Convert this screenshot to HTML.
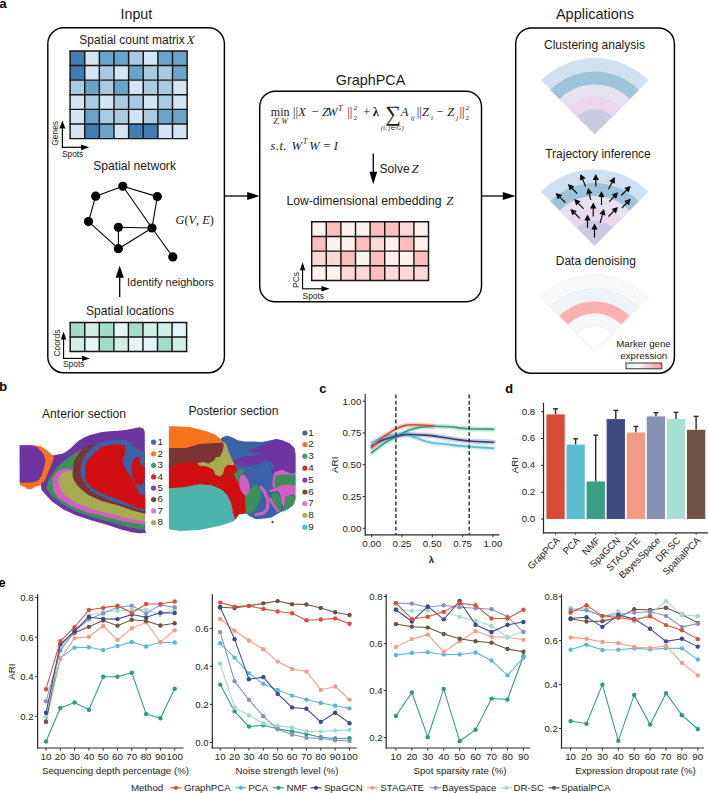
<!DOCTYPE html><html><head><meta charset="utf-8"><style>html,body{margin:0;padding:0;background:#fff;}svg{display:block;}</style></head><body>
<svg width="708" height="793" viewBox="0 0 708 793">
<rect width="708" height="793" fill="#fff"/>
<text x="-0.6" y="7.7" font-size="12.8" text-anchor="start" fill="#000" font-weight="bold" font-style="normal" font-family='"Liberation Sans", sans-serif' >a</text>
<text x="136.4" y="19.2" font-size="14.3" text-anchor="middle" fill="#1a1a1a" font-weight="normal" font-style="normal" font-family='"Liberation Sans", sans-serif' >Input</text>
<text x="370.5" y="85.3" font-size="14.4" text-anchor="middle" fill="#1a1a1a" font-weight="normal" font-style="normal" font-family='"Liberation Sans", sans-serif' >GraphPCA</text>
<text x="595" y="19.2" font-size="14.5" text-anchor="middle" fill="#1a1a1a" font-weight="normal" font-style="normal" font-family='"Liberation Sans", sans-serif' >Applications</text>
<rect x="47.8" y="27.8" width="176.6" height="345" rx="16" ry="16" fill="none" stroke="#000" stroke-width="1.45"/>
<rect x="259.7" y="91.2" width="221.8" height="210.5" rx="15.5" ry="15.5" fill="none" stroke="#000" stroke-width="1.45"/>
<rect x="515.7" y="27.9" width="158.7" height="345.4" rx="16" ry="16" fill="none" stroke="#000" stroke-width="1.45"/>
<line x1="224.6" y1="196" x2="248.2" y2="196" stroke="#000" stroke-width="1.3" />
<polygon points="247.2,192.1 247.2,199.9 259.7,196" fill="#000"/>
<line x1="481.7" y1="196" x2="503.79999999999995" y2="196" stroke="#000" stroke-width="1.3" />
<polygon points="502.79999999999995,192.1 502.79999999999995,199.9 515.8,196" fill="#000"/>
<text x="79.3" y="44.1" font-size="12" text-anchor="start" fill="#1a1a1a" font-weight="normal" font-style="normal" font-family='"Liberation Sans", sans-serif' >Spatial count matrix</text>
<text x="186.8" y="44.1" font-size="12.8" text-anchor="start" fill="#1a1a1a" font-weight="normal" font-style="italic" font-family='"Liberation Serif", serif' >X</text>
<rect x="70.1" y="50.9" width="14.63" height="14.62" fill="#3f7db3" stroke="none" stroke-width="0" />
<rect x="84.73" y="50.9" width="14.63" height="14.62" fill="#d5e4f2" stroke="none" stroke-width="0" />
<rect x="99.36" y="50.9" width="14.63" height="14.62" fill="#6aa4cb" stroke="none" stroke-width="0" />
<rect x="113.99" y="50.9" width="14.63" height="14.62" fill="#6aa4cb" stroke="none" stroke-width="0" />
<rect x="128.62" y="50.9" width="14.63" height="14.62" fill="#a8cbe1" stroke="none" stroke-width="0" />
<rect x="143.25" y="50.9" width="14.63" height="14.62" fill="#d5e4f2" stroke="none" stroke-width="0" />
<rect x="157.88" y="50.9" width="14.63" height="14.62" fill="#6aa4cb" stroke="none" stroke-width="0" />
<rect x="172.51" y="50.9" width="14.63" height="14.62" fill="#6aa4cb" stroke="none" stroke-width="0" />
<rect x="70.1" y="65.52" width="14.63" height="14.62" fill="#3f7db3" stroke="none" stroke-width="0" />
<rect x="84.73" y="65.52" width="14.63" height="14.62" fill="#d5e4f2" stroke="none" stroke-width="0" />
<rect x="99.36" y="65.52" width="14.63" height="14.62" fill="#a8cbe1" stroke="none" stroke-width="0" />
<rect x="113.99" y="65.52" width="14.63" height="14.62" fill="#d5e4f2" stroke="none" stroke-width="0" />
<rect x="128.62" y="65.52" width="14.63" height="14.62" fill="#6aa4cb" stroke="none" stroke-width="0" />
<rect x="143.25" y="65.52" width="14.63" height="14.62" fill="#a8cbe1" stroke="none" stroke-width="0" />
<rect x="157.88" y="65.52" width="14.63" height="14.62" fill="#a8cbe1" stroke="none" stroke-width="0" />
<rect x="172.51" y="65.52" width="14.63" height="14.62" fill="#6aa4cb" stroke="none" stroke-width="0" />
<rect x="70.1" y="80.14" width="14.63" height="14.62" fill="#a8cbe1" stroke="none" stroke-width="0" />
<rect x="84.73" y="80.14" width="14.63" height="14.62" fill="#6aa4cb" stroke="none" stroke-width="0" />
<rect x="99.36" y="80.14" width="14.63" height="14.62" fill="#a8cbe1" stroke="none" stroke-width="0" />
<rect x="113.99" y="80.14" width="14.63" height="14.62" fill="#6aa4cb" stroke="none" stroke-width="0" />
<rect x="128.62" y="80.14" width="14.63" height="14.62" fill="#d5e4f2" stroke="none" stroke-width="0" />
<rect x="143.25" y="80.14" width="14.63" height="14.62" fill="#a8cbe1" stroke="none" stroke-width="0" />
<rect x="157.88" y="80.14" width="14.63" height="14.62" fill="#a8cbe1" stroke="none" stroke-width="0" />
<rect x="172.51" y="80.14" width="14.63" height="14.62" fill="#d5e4f2" stroke="none" stroke-width="0" />
<rect x="70.1" y="94.76" width="14.63" height="14.62" fill="#d5e4f2" stroke="none" stroke-width="0" />
<rect x="84.73" y="94.76" width="14.63" height="14.62" fill="#a8cbe1" stroke="none" stroke-width="0" />
<rect x="99.36" y="94.76" width="14.63" height="14.62" fill="#d5e4f2" stroke="none" stroke-width="0" />
<rect x="113.99" y="94.76" width="14.63" height="14.62" fill="#a8cbe1" stroke="none" stroke-width="0" />
<rect x="128.62" y="94.76" width="14.63" height="14.62" fill="#a8cbe1" stroke="none" stroke-width="0" />
<rect x="143.25" y="94.76" width="14.63" height="14.62" fill="#d5e4f2" stroke="none" stroke-width="0" />
<rect x="157.88" y="94.76" width="14.63" height="14.62" fill="#a8cbe1" stroke="none" stroke-width="0" />
<rect x="172.51" y="94.76" width="14.63" height="14.62" fill="#d5e4f2" stroke="none" stroke-width="0" />
<rect x="70.1" y="109.38" width="14.63" height="14.62" fill="#d5e4f2" stroke="none" stroke-width="0" />
<rect x="84.73" y="109.38" width="14.63" height="14.62" fill="#6aa4cb" stroke="none" stroke-width="0" />
<rect x="99.36" y="109.38" width="14.63" height="14.62" fill="#a8cbe1" stroke="none" stroke-width="0" />
<rect x="113.99" y="109.38" width="14.63" height="14.62" fill="#a8cbe1" stroke="none" stroke-width="0" />
<rect x="128.62" y="109.38" width="14.63" height="14.62" fill="#d5e4f2" stroke="none" stroke-width="0" />
<rect x="143.25" y="109.38" width="14.63" height="14.62" fill="#a8cbe1" stroke="none" stroke-width="0" />
<rect x="157.88" y="109.38" width="14.63" height="14.62" fill="#6aa4cb" stroke="none" stroke-width="0" />
<rect x="172.51" y="109.38" width="14.63" height="14.62" fill="#6aa4cb" stroke="none" stroke-width="0" />
<rect x="70.1" y="124.0" width="14.63" height="14.62" fill="#d5e4f2" stroke="none" stroke-width="0" />
<rect x="84.73" y="124.0" width="14.63" height="14.62" fill="#3f7db3" stroke="none" stroke-width="0" />
<rect x="99.36" y="124.0" width="14.63" height="14.62" fill="#6aa4cb" stroke="none" stroke-width="0" />
<rect x="113.99" y="124.0" width="14.63" height="14.62" fill="#d5e4f2" stroke="none" stroke-width="0" />
<rect x="128.62" y="124.0" width="14.63" height="14.62" fill="#3f7db3" stroke="none" stroke-width="0" />
<rect x="143.25" y="124.0" width="14.63" height="14.62" fill="#3f7db3" stroke="none" stroke-width="0" />
<rect x="157.88" y="124.0" width="14.63" height="14.62" fill="#d5e4f2" stroke="none" stroke-width="0" />
<rect x="172.51" y="124.0" width="14.63" height="14.62" fill="#d5e4f2" stroke="none" stroke-width="0" />
<line x1="70.1" y1="50.9" x2="70.1" y2="138.62" stroke="#151515" stroke-width="1.45" />
<line x1="84.73" y1="50.9" x2="84.73" y2="138.62" stroke="#151515" stroke-width="1.45" />
<line x1="99.36" y1="50.9" x2="99.36" y2="138.62" stroke="#151515" stroke-width="1.45" />
<line x1="113.99" y1="50.9" x2="113.99" y2="138.62" stroke="#151515" stroke-width="1.45" />
<line x1="128.62" y1="50.9" x2="128.62" y2="138.62" stroke="#151515" stroke-width="1.45" />
<line x1="143.25" y1="50.9" x2="143.25" y2="138.62" stroke="#151515" stroke-width="1.45" />
<line x1="157.88" y1="50.9" x2="157.88" y2="138.62" stroke="#151515" stroke-width="1.45" />
<line x1="172.51" y1="50.9" x2="172.51" y2="138.62" stroke="#151515" stroke-width="1.45" />
<line x1="187.14" y1="50.9" x2="187.14" y2="138.62" stroke="#151515" stroke-width="1.45" />
<line x1="69.375" y1="50.9" x2="187.86" y2="50.9" stroke="#151515" stroke-width="1.45" />
<line x1="69.375" y1="65.52" x2="187.86" y2="65.52" stroke="#151515" stroke-width="1.45" />
<line x1="69.375" y1="80.14" x2="187.86" y2="80.14" stroke="#151515" stroke-width="1.45" />
<line x1="69.375" y1="94.76" x2="187.86" y2="94.76" stroke="#151515" stroke-width="1.45" />
<line x1="69.375" y1="109.38" x2="187.86" y2="109.38" stroke="#151515" stroke-width="1.45" />
<line x1="69.375" y1="124.0" x2="187.86" y2="124.0" stroke="#151515" stroke-width="1.45" />
<line x1="69.375" y1="138.62" x2="187.86" y2="138.62" stroke="#151515" stroke-width="1.45" />
<line x1="62.4" y1="147.6" x2="62.4" y2="127" stroke="#000" stroke-width="1.2" />
<polygon points="59.4,128.6 65.4,128.6 62.4,120.6" fill="#000"/>
<line x1="61.8" y1="147.3" x2="82" y2="147.3" stroke="#000" stroke-width="1.2" />
<polygon points="81,144.4 81,150.2 89.1,147.3" fill="#000"/>
<text x="58" y="133.3" font-size="8.4" text-anchor="middle" fill="#1a1a1a" font-weight="normal" font-style="normal" font-family='"Liberation Sans", sans-serif' transform="rotate(-90 58 133.3)">Genes</text>
<text x="61.9" y="157" font-size="8.4" text-anchor="start" fill="#1a1a1a" font-weight="normal" font-style="normal" font-family='"Liberation Sans", sans-serif' >Spots</text>
<text x="134.6" y="169.5" font-size="12.1" text-anchor="middle" fill="#1a1a1a" font-weight="normal" font-style="normal" font-family='"Liberation Sans", sans-serif' >Spatial network</text>
<line x1="122.8" y1="186.3" x2="95.7" y2="196.2" stroke="#000" stroke-width="1.1" />
<line x1="122.8" y1="186.3" x2="157.3" y2="196.6" stroke="#000" stroke-width="1.1" />
<line x1="122.8" y1="186.3" x2="152" y2="228" stroke="#000" stroke-width="1.1" />
<line x1="95.7" y1="196.2" x2="88.5" y2="221.6" stroke="#000" stroke-width="1.1" />
<line x1="157.3" y1="196.6" x2="152" y2="228" stroke="#000" stroke-width="1.1" />
<line x1="88.5" y1="221.6" x2="118.4" y2="248.7" stroke="#000" stroke-width="1.1" />
<line x1="118.4" y1="227.3" x2="152" y2="228" stroke="#000" stroke-width="1.1" />
<line x1="118.4" y1="227.3" x2="118.4" y2="248.7" stroke="#000" stroke-width="1.1" />
<line x1="118.4" y1="248.7" x2="152" y2="228" stroke="#000" stroke-width="1.1" />
<line x1="152" y1="228" x2="172.8" y2="256.9" stroke="#000" stroke-width="1.1" />
<circle cx="122.8" cy="186.3" r="4.6" fill="#000"/>
<circle cx="95.7" cy="196.2" r="4.6" fill="#000"/>
<circle cx="157.3" cy="196.6" r="4.6" fill="#000"/>
<circle cx="88.5" cy="221.6" r="4.6" fill="#000"/>
<circle cx="118.4" cy="227.3" r="4.6" fill="#000"/>
<circle cx="152" cy="228" r="4.6" fill="#000"/>
<circle cx="118.4" cy="248.7" r="4.6" fill="#000"/>
<circle cx="172.8" cy="256.9" r="4.6" fill="#000"/>
<text x="175.6" y="223.8" font-size="12.3" text-anchor="start" fill="#1a1a1a" font-weight="normal" font-style="normal" font-family='"Liberation Serif", serif' ><tspan font-style="italic">G</tspan>(<tspan font-style="italic">V</tspan>, <tspan font-style="italic">E</tspan>)</text>
<line x1="119.7" y1="297" x2="119.7" y2="276.7" stroke="#000" stroke-width="1.3" />
<polygon points="115.60000000000001,277.7 123.8,277.7 119.7,265.7" fill="#000"/>
<text x="127" y="286" font-size="11" text-anchor="start" fill="#1a1a1a" font-weight="normal" font-style="normal" font-family='"Liberation Sans", sans-serif' >Identify neighbors</text>
<text x="130" y="315" font-size="12.1" text-anchor="middle" fill="#1a1a1a" font-weight="normal" font-style="normal" font-family='"Liberation Sans", sans-serif' >Spatial locations</text>
<rect x="70.2" y="322.4" width="14.55" height="14.5" fill="#a4dcc8" stroke="none" stroke-width="0" />
<rect x="84.75" y="322.4" width="14.55" height="14.5" fill="#cfeee4" stroke="none" stroke-width="0" />
<rect x="99.3" y="322.4" width="14.55" height="14.5" fill="#a4dcc8" stroke="none" stroke-width="0" />
<rect x="113.85" y="322.4" width="14.55" height="14.5" fill="#e5f4f8" stroke="none" stroke-width="0" />
<rect x="128.4" y="322.4" width="14.55" height="14.5" fill="#a4dcc8" stroke="none" stroke-width="0" />
<rect x="142.95" y="322.4" width="14.55" height="14.5" fill="#cfeee4" stroke="none" stroke-width="0" />
<rect x="157.5" y="322.4" width="14.55" height="14.5" fill="#cfeee4" stroke="none" stroke-width="0" />
<rect x="172.05" y="322.4" width="14.55" height="14.5" fill="#e5f4f8" stroke="none" stroke-width="0" />
<rect x="70.2" y="336.9" width="14.55" height="14.5" fill="#cfeee4" stroke="none" stroke-width="0" />
<rect x="84.75" y="336.9" width="14.55" height="14.5" fill="#e5f4f8" stroke="none" stroke-width="0" />
<rect x="99.3" y="336.9" width="14.55" height="14.5" fill="#a4dcc8" stroke="none" stroke-width="0" />
<rect x="113.85" y="336.9" width="14.55" height="14.5" fill="#cfeee4" stroke="none" stroke-width="0" />
<rect x="128.4" y="336.9" width="14.55" height="14.5" fill="#e5f4f8" stroke="none" stroke-width="0" />
<rect x="142.95" y="336.9" width="14.55" height="14.5" fill="#e5f4f8" stroke="none" stroke-width="0" />
<rect x="157.5" y="336.9" width="14.55" height="14.5" fill="#a4dcc8" stroke="none" stroke-width="0" />
<rect x="172.05" y="336.9" width="14.55" height="14.5" fill="#cfeee4" stroke="none" stroke-width="0" />
<line x1="70.2" y1="322.4" x2="70.2" y2="351.4" stroke="#151515" stroke-width="1.45" />
<line x1="84.75" y1="322.4" x2="84.75" y2="351.4" stroke="#151515" stroke-width="1.45" />
<line x1="99.3" y1="322.4" x2="99.3" y2="351.4" stroke="#151515" stroke-width="1.45" />
<line x1="113.85" y1="322.4" x2="113.85" y2="351.4" stroke="#151515" stroke-width="1.45" />
<line x1="128.4" y1="322.4" x2="128.4" y2="351.4" stroke="#151515" stroke-width="1.45" />
<line x1="142.95" y1="322.4" x2="142.95" y2="351.4" stroke="#151515" stroke-width="1.45" />
<line x1="157.5" y1="322.4" x2="157.5" y2="351.4" stroke="#151515" stroke-width="1.45" />
<line x1="172.05" y1="322.4" x2="172.05" y2="351.4" stroke="#151515" stroke-width="1.45" />
<line x1="186.6" y1="322.4" x2="186.6" y2="351.4" stroke="#151515" stroke-width="1.45" />
<line x1="69.47500000000001" y1="322.4" x2="187.33" y2="322.4" stroke="#151515" stroke-width="1.45" />
<line x1="69.47500000000001" y1="336.9" x2="187.33" y2="336.9" stroke="#151515" stroke-width="1.45" />
<line x1="69.47500000000001" y1="351.4" x2="187.33" y2="351.4" stroke="#151515" stroke-width="1.45" />
<line x1="63.6" y1="358.6" x2="63.6" y2="339" stroke="#000" stroke-width="1.1" />
<polygon points="60.9,339.5 66.3,339.5 63.6,331.5" fill="#000"/>
<line x1="63" y1="358.4" x2="83" y2="358.4" stroke="#000" stroke-width="1.1" />
<polygon points="82,355.7 82,361.1 89.9,358.4" fill="#000"/>
<text x="59.5" y="343" font-size="8.4" text-anchor="middle" fill="#1a1a1a" font-weight="normal" font-style="normal" font-family='"Liberation Sans", sans-serif' transform="rotate(-90 59.5 343)">Coords</text>
<text x="63" y="367" font-size="8.4" text-anchor="start" fill="#1a1a1a" font-weight="normal" font-style="normal" font-family='"Liberation Sans", sans-serif' >Spots</text>
<g font-family='"Liberation Serif", serif' fill="#1a1a1a">
<text x="270.8" y="116.3" font-size="12">min</text>
<text x="273.5" y="123.8" font-size="7.5" font-style="italic">Z, W</text>
<text x="293" y="116.3" font-size="12.5">||</text>
<text x="298.2" y="116.3" font-size="12.5" font-style="italic">X</text>
<text x="311.4" y="116.3" font-size="12.5">−</text>
<text x="322" y="116.3" font-size="12.5" font-style="italic">Z</text>
<text x="327.3" y="116.3" font-size="12.5" font-style="italic">W</text>
<text x="338.3" y="111" font-size="7.5" font-style="italic">T</text>
<text x="347.3" y="116.3" font-size="12.5">||</text>
<text x="353.6" y="110.3" font-size="7">2</text>
<text x="353.6" y="120.3" font-size="7">2</text>
<text x="363.3" y="116.3" font-size="12.5">+</text>
<text x="372.8" y="116.3" font-size="12.5" font-weight="bold">λ</text>
<text x="385.3" y="120.8" font-size="22">∑</text>
<text x="380.4" y="129.7" font-size="6.8" font-style="italic">{i, j∈G}</text>
<text x="400.8" y="116.3" font-size="12.5" font-style="italic">A</text>
<text x="410.8" y="120.3" font-size="7" font-style="italic">ij</text>
<text x="416.8" y="116.3" font-size="12.5">||</text>
<text x="422" y="116.3" font-size="12.5" font-style="italic">Z</text>
<text x="431" y="120.3" font-size="7" font-style="italic">i</text>
<text x="436.2" y="116.3" font-size="12.5">−</text>
<text x="447.3" y="116.3" font-size="12.5" font-style="italic">Z</text>
<text x="456.3" y="120.3" font-size="7" font-style="italic">j</text>
<text x="459.6" y="116.3" font-size="12.5">||</text>
<text x="465.5" y="110.3" font-size="7">2</text>
<text x="465.5" y="120.3" font-size="7">2</text>
<text x="270.6" y="149.7" font-size="12.5" font-style="italic" letter-spacing="0.45">s.t.</text>
<text x="291.4" y="149.7" font-size="12.5" font-style="italic">W</text>
<text x="302.9" y="144.3" font-size="7.5" font-style="italic">T</text>
<text x="309.3" y="149.7" font-size="12.5" font-style="italic">W</text>
<text x="323.6" y="149.7" font-size="12.5">=</text>
<text x="333.7" y="149.7" font-size="12.5" font-style="italic">I</text>
</g>
<line x1="373.3" y1="153.4" x2="373.3" y2="172.7" stroke="#000" stroke-width="1.3" />
<polygon points="369.40000000000003,171.7 377.2,171.7 373.3,184.2" fill="#000"/>
<text x="379.6" y="172.7" font-size="12" text-anchor="start" fill="#1a1a1a" font-weight="normal" font-style="normal" font-family='"Liberation Sans", sans-serif' >Solve</text>
<text x="411.6" y="172.7" font-size="12.8" text-anchor="start" fill="#1a1a1a" font-weight="normal" font-style="italic" font-family='"Liberation Serif", serif' >Z</text>
<text x="286.4" y="205" font-size="12.2" text-anchor="start" fill="#1a1a1a" font-weight="normal" font-style="normal" font-family='"Liberation Sans", sans-serif' >Low-dimensional embedding</text>
<text x="446.2" y="205" font-size="12.8" text-anchor="start" fill="#1a1a1a" font-weight="normal" font-style="italic" font-family='"Liberation Serif", serif' >Z</text>
<rect x="311.7" y="221.7" width="14.6" height="14.7" fill="#fff1ee" stroke="none" stroke-width="0" />
<rect x="326.3" y="221.7" width="14.6" height="14.7" fill="#fbbdbd" stroke="none" stroke-width="0" />
<rect x="340.9" y="221.7" width="14.6" height="14.7" fill="#fff1ee" stroke="none" stroke-width="0" />
<rect x="355.5" y="221.7" width="14.6" height="14.7" fill="#fff1ee" stroke="none" stroke-width="0" />
<rect x="370.1" y="221.7" width="14.6" height="14.7" fill="#fbbdbd" stroke="none" stroke-width="0" />
<rect x="384.7" y="221.7" width="14.6" height="14.7" fill="#fbbdbd" stroke="none" stroke-width="0" />
<rect x="399.3" y="221.7" width="14.6" height="14.7" fill="#fdd8d8" stroke="none" stroke-width="0" />
<rect x="413.9" y="221.7" width="14.6" height="14.7" fill="#fff1ee" stroke="none" stroke-width="0" />
<rect x="311.7" y="236.4" width="14.6" height="14.7" fill="#fbbdbd" stroke="none" stroke-width="0" />
<rect x="326.3" y="236.4" width="14.6" height="14.7" fill="#fff1ee" stroke="none" stroke-width="0" />
<rect x="340.9" y="236.4" width="14.6" height="14.7" fill="#fff1ee" stroke="none" stroke-width="0" />
<rect x="355.5" y="236.4" width="14.6" height="14.7" fill="#fbbdbd" stroke="none" stroke-width="0" />
<rect x="370.1" y="236.4" width="14.6" height="14.7" fill="#fdd8d8" stroke="none" stroke-width="0" />
<rect x="384.7" y="236.4" width="14.6" height="14.7" fill="#fff1ee" stroke="none" stroke-width="0" />
<rect x="399.3" y="236.4" width="14.6" height="14.7" fill="#fbbdbd" stroke="none" stroke-width="0" />
<rect x="413.9" y="236.4" width="14.6" height="14.7" fill="#fff1ee" stroke="none" stroke-width="0" />
<rect x="311.7" y="251.1" width="14.6" height="14.7" fill="#fdd8d8" stroke="none" stroke-width="0" />
<rect x="326.3" y="251.1" width="14.6" height="14.7" fill="#fdd8d8" stroke="none" stroke-width="0" />
<rect x="340.9" y="251.1" width="14.6" height="14.7" fill="#fbbdbd" stroke="none" stroke-width="0" />
<rect x="355.5" y="251.1" width="14.6" height="14.7" fill="#fff1ee" stroke="none" stroke-width="0" />
<rect x="370.1" y="251.1" width="14.6" height="14.7" fill="#fbbdbd" stroke="none" stroke-width="0" />
<rect x="384.7" y="251.1" width="14.6" height="14.7" fill="#fff1ee" stroke="none" stroke-width="0" />
<rect x="399.3" y="251.1" width="14.6" height="14.7" fill="#fff1ee" stroke="none" stroke-width="0" />
<rect x="413.9" y="251.1" width="14.6" height="14.7" fill="#fbbdbd" stroke="none" stroke-width="0" />
<rect x="311.7" y="265.8" width="14.6" height="14.7" fill="#fff1ee" stroke="none" stroke-width="0" />
<rect x="326.3" y="265.8" width="14.6" height="14.7" fill="#fff1ee" stroke="none" stroke-width="0" />
<rect x="340.9" y="265.8" width="14.6" height="14.7" fill="#fdd8d8" stroke="none" stroke-width="0" />
<rect x="355.5" y="265.8" width="14.6" height="14.7" fill="#fdd8d8" stroke="none" stroke-width="0" />
<rect x="370.1" y="265.8" width="14.6" height="14.7" fill="#fbbdbd" stroke="none" stroke-width="0" />
<rect x="384.7" y="265.8" width="14.6" height="14.7" fill="#fdd8d8" stroke="none" stroke-width="0" />
<rect x="399.3" y="265.8" width="14.6" height="14.7" fill="#fdd8d8" stroke="none" stroke-width="0" />
<rect x="413.9" y="265.8" width="14.6" height="14.7" fill="#fdd8d8" stroke="none" stroke-width="0" />
<line x1="311.7" y1="221.7" x2="311.7" y2="280.5" stroke="#151515" stroke-width="1.45" />
<line x1="326.3" y1="221.7" x2="326.3" y2="280.5" stroke="#151515" stroke-width="1.45" />
<line x1="340.9" y1="221.7" x2="340.9" y2="280.5" stroke="#151515" stroke-width="1.45" />
<line x1="355.5" y1="221.7" x2="355.5" y2="280.5" stroke="#151515" stroke-width="1.45" />
<line x1="370.1" y1="221.7" x2="370.1" y2="280.5" stroke="#151515" stroke-width="1.45" />
<line x1="384.7" y1="221.7" x2="384.7" y2="280.5" stroke="#151515" stroke-width="1.45" />
<line x1="399.3" y1="221.7" x2="399.3" y2="280.5" stroke="#151515" stroke-width="1.45" />
<line x1="413.9" y1="221.7" x2="413.9" y2="280.5" stroke="#151515" stroke-width="1.45" />
<line x1="428.5" y1="221.7" x2="428.5" y2="280.5" stroke="#151515" stroke-width="1.45" />
<line x1="310.97499999999997" y1="221.7" x2="429.23" y2="221.7" stroke="#151515" stroke-width="1.45" />
<line x1="310.97499999999997" y1="236.4" x2="429.23" y2="236.4" stroke="#151515" stroke-width="1.45" />
<line x1="310.97499999999997" y1="251.1" x2="429.23" y2="251.1" stroke="#151515" stroke-width="1.45" />
<line x1="310.97499999999997" y1="265.8" x2="429.23" y2="265.8" stroke="#151515" stroke-width="1.45" />
<line x1="310.97499999999997" y1="280.5" x2="429.23" y2="280.5" stroke="#151515" stroke-width="1.45" />
<line x1="302.6" y1="289" x2="302.6" y2="270" stroke="#000" stroke-width="1.1" />
<polygon points="299.9,270.3 305.3,270.3 302.6,262.3" fill="#000"/>
<line x1="302" y1="288.8" x2="322" y2="288.8" stroke="#000" stroke-width="1.1" />
<polygon points="321.5,286.1 321.5,291.5 329.7,288.8" fill="#000"/>
<text x="299" y="280" font-size="8.4" text-anchor="middle" fill="#1a1a1a" font-weight="normal" font-style="normal" font-family='"Liberation Sans", sans-serif' transform="rotate(-90 299 280)">PCs</text>
<text x="302.6" y="298.5" font-size="8.4" text-anchor="start" fill="#1a1a1a" font-weight="normal" font-style="normal" font-family='"Liberation Sans", sans-serif' >Spots</text>
<text x="594.5" y="48.7" font-size="12.05" text-anchor="middle" fill="#1a1a1a" font-weight="normal" font-style="normal" font-family='"Liberation Sans", sans-serif' >Clustering analysis</text>
<text x="598" y="157.6" font-size="12" text-anchor="middle" fill="#1a1a1a" font-weight="normal" font-style="normal" font-family='"Liberation Sans", sans-serif' >Trajectory inference</text>
<text x="595.8" y="265.4" font-size="12" text-anchor="middle" fill="#1a1a1a" font-weight="normal" font-style="normal" font-family='"Liberation Sans", sans-serif' >Data denoising</text>
<path d="M594.7,134.1 L540.96,80.36 A76,76 0 0 1 648.44,80.36 Z" fill="#cfe0f1" stroke="none" stroke-width="0"/>
<path d="M594.7,134.1 L550.51,89.91 A62.5,62.5 0 0 1 638.89,89.91 Z" fill="#9ec4db" stroke="none" stroke-width="0"/>
<path d="M594.7,134.1 L559.70,99.10 A49.5,49.5 0 0 1 629.70,99.10 Z" fill="#e7e2f0" stroke="none" stroke-width="0"/>
<path d="M594.7,134.1 L568.18,107.58 A37.5,37.5 0 0 1 621.22,107.58 Z" fill="#ead7eb" stroke="none" stroke-width="0"/>
<path d="M594.7,134.1 L577.02,116.42 A25,25 0 0 1 612.38,116.42 Z" fill="#cbcae3" stroke="none" stroke-width="0"/>
<path d="M594.6,245.5 L540.86,191.76 A76,76 0 0 1 648.34,191.76 Z" fill="#cfe0f1" stroke="none" stroke-width="0"/>
<path d="M594.6,245.5 L550.41,201.31 A62.5,62.5 0 0 1 638.79,201.31 Z" fill="#9ec4db" stroke="none" stroke-width="0"/>
<path d="M594.6,245.5 L559.60,210.50 A49.5,49.5 0 0 1 629.60,210.50 Z" fill="#e7e2f0" stroke="none" stroke-width="0"/>
<path d="M594.6,245.5 L568.08,218.98 A37.5,37.5 0 0 1 621.12,218.98 Z" fill="#ead7eb" stroke="none" stroke-width="0"/>
<path d="M594.6,245.5 L576.92,227.82 A25,25 0 0 1 612.28,227.82 Z" fill="#cbcae3" stroke="none" stroke-width="0"/>
<line x1="594.5" y1="237.5" x2="594.5" y2="229.0" stroke="#000" stroke-width="1.15" />
<polygon points="594.50,223.50 597.60,229.50 591.40,229.50" fill="#000"/>
<line x1="587.5" y1="227.9" x2="587.5" y2="220.1" stroke="#000" stroke-width="1.15" />
<polygon points="587.50,214.60 590.60,220.60 584.40,220.60" fill="#000"/>
<line x1="600.2" y1="222.8" x2="602.5496249561307" y2="214.20531923941638" stroke="#000" stroke-width="1.15" />
<polygon points="604.00,208.90 605.41,215.51 599.43,213.87" fill="#000"/>
<line x1="593.2" y1="216.5" x2="593.2" y2="208.0" stroke="#000" stroke-width="1.15" />
<polygon points="593.20,202.50 596.30,208.50 590.10,208.50" fill="#000"/>
<line x1="579.9" y1="218.4" x2="574.209395429234" y2="212.76867256017937" stroke="#000" stroke-width="1.15" />
<polygon points="570.30,208.90 576.75,210.92 572.38,215.32" fill="#000"/>
<line x1="608.5" y1="216.5" x2="614.1109127034739" y2="210.88908729652601" stroke="#000" stroke-width="1.15" />
<polygon points="618.00,207.00 615.95,213.43 611.57,209.05" fill="#000"/>
<line x1="583.7" y1="208.9" x2="578.0281727140821" y2="203.04906237873726" stroke="#000" stroke-width="1.15" />
<polygon points="574.20,199.10 580.60,201.25 576.15,205.57" fill="#000"/>
<line x1="601.5" y1="205" x2="601.5" y2="196.5" stroke="#000" stroke-width="1.15" />
<polygon points="601.50,191.00 604.60,197.00 598.40,197.00" fill="#000"/>
<line x1="590.7" y1="200" x2="589.2554447438037" y2="193.2772620769325" stroke="#000" stroke-width="1.15" />
<polygon points="588.10,187.90 592.39,193.11 586.33,194.42" fill="#000"/>
<line x1="609.1" y1="201.9" x2="614.2607431512475" y2="196.33335570202507" stroke="#000" stroke-width="1.15" />
<polygon points="618.00,192.30 616.19,198.81 611.65,194.59" fill="#000"/>
<line x1="621.8" y1="208.2" x2="626.939729434993" y2="202.71377195141199" stroke="#000" stroke-width="1.15" />
<polygon points="630.70,198.70 628.86,205.20 624.34,200.96" fill="#000"/>
<line x1="565.3" y1="202.5" x2="559.6093954292339" y2="196.8686725601794" stroke="#000" stroke-width="1.15" />
<polygon points="555.70,193.00 562.15,195.02 557.78,199.42" fill="#000"/>
<line x1="577.3" y1="193.6" x2="571.689087296526" y2="187.989087296526" stroke="#000" stroke-width="1.15" />
<polygon points="567.80,184.10 574.23,186.15 569.85,190.53" fill="#000"/>
<line x1="585.6" y1="186.6" x2="582.5495757637941" y2="179.00384552944814" stroke="#000" stroke-width="1.15" />
<polygon points="580.50,173.90 585.61,178.31 579.86,180.62" fill="#000"/>
<line x1="595.8" y1="186.6" x2="595.8" y2="179.4" stroke="#000" stroke-width="1.15" />
<polygon points="595.80,173.90 598.90,179.90 592.70,179.90" fill="#000"/>
<line x1="608.5" y1="189.2" x2="612.2600214304449" y2="181.9783715383518" stroke="#000" stroke-width="1.15" />
<polygon points="614.80,177.10 614.78,183.85 609.28,180.99" fill="#000"/>
<line x1="621.2" y1="195.5" x2="626.810912703474" y2="189.88908729652601" stroke="#000" stroke-width="1.15" />
<polygon points="630.70,186.00 628.65,192.43 624.27,188.05" fill="#000"/>
<path d="M594.4,351.1 L540.66,297.36 A76,76 0 0 1 648.14,297.36 Z" fill="#f8f9fb" stroke="#e9ebef" stroke-width="0.6"/>
<path d="M594.4,351.1 L550.21,306.91 A62.5,62.5 0 0 1 638.59,306.91 Z" fill="#eef3f8" stroke="#e9ecf0" stroke-width="0.6"/>
<path d="M594.4,351.1 L559.40,316.10 A49.5,49.5 0 0 1 629.40,316.10 Z" fill="#fdb0b1" stroke="none" stroke-width="0.6"/>
<path d="M594.4,351.1 L567.88,324.58 A37.5,37.5 0 0 1 620.92,324.58 Z" fill="#f6f8fb" stroke="#eceef2" stroke-width="0.6"/>
<path d="M594.4,351.1 L576.72,333.42 A25,25 0 0 1 612.08,333.42 Z" fill="#ffffff" stroke="#e6e8ec" stroke-width="0.6"/>
<text x="643.5" y="346.8" font-size="9.7" text-anchor="middle" fill="#1a1a1a" font-weight="normal" font-style="normal" font-family='"Liberation Sans", sans-serif' >Marker gene</text>
<text x="643.8" y="358.7" font-size="9.7" text-anchor="middle" fill="#1a1a1a" font-weight="normal" font-style="normal" font-family='"Liberation Sans", sans-serif' >expression</text>
<defs><linearGradient id="mg" x1="0" x2="1" y1="0" y2="0"><stop offset="0" stop-color="#e9eff8"/><stop offset="0.35" stop-color="#f8f8fb"/><stop offset="1" stop-color="#f4989c"/></linearGradient></defs>
<rect x="626" y="363" width="35.8" height="5.8" fill="url(#mg)" stroke="#222" stroke-width="0.9"/>
<text x="-0.8" y="391.4" font-size="12.8" text-anchor="start" fill="#000" font-weight="bold" font-family='"Liberation Sans", sans-serif' >b</text>
<text x="42" y="417.6" font-size="12.1" text-anchor="start" fill="#1a1a1a" font-weight="normal" font-family='"Liberation Sans", sans-serif' >Anterior section</text>
<text x="188.4" y="414.9" font-size="12.1" text-anchor="start" fill="#1a1a1a" font-weight="normal" font-family='"Liberation Sans", sans-serif' >Posterior section</text>
<g stroke-linejoin="round">
<polygon points="54.5,455.0 58.0,454.5 63.0,453.5 67.0,451.0 71.0,448.0 75.0,444.0 79.0,440.5 84.0,437.5 90.0,435.0 96.0,433.5 102.0,432.0 110.0,431.2 118.0,430.8 127.0,429.7 133.0,428.5 139.4,427.3 143.5,428.5 144.8,432.0 144.8,480.0 145.2,531.0 146.5,532.8 140.0,533.2 133.0,532.5 121.0,529.5 107.0,524.8 91.0,520.2 76.0,515.3 63.0,509.3 52.0,501.5 45.0,494.0 41.5,490.0 40.0,480.0 44.0,470.0 48.0,462.0 52.0,456.0" fill="#6c35a2" />
<polygon points="46.2,488.0 48.0,482.0 51.0,476.0 55.0,470.0 58.6,465.4 64.0,461.0 71.0,456.0 76.0,452.5 80.4,450.0 86.6,447.5 95.2,443.6 109.9,440.5 123.9,439.8 130.1,442.1 136.3,448.3 142.5,451.4 144.8,452.0 144.8,529.5 140.0,529.3 127.0,526.8 110.0,522.1 91.3,516.9 75.7,511.4 61.8,503.7 50.9,495.0" fill="#3a9158" />
<polygon points="52.4,479.4 55.0,474.5 57.1,471.6 62.0,469.3 66.4,468.5 72.6,469.5 73.4,462.3 78.8,453.0 144.8,453.0 144.8,524.6 127.0,522.3 106.8,516.9 86.6,512.2 71.1,506.0 58.6,498.2 53.2,490.5" fill="#d35fc2" />
<polygon points="58.6,477.8 61.5,474.0 64.9,471.6 68.0,470.8 72.6,471.0 73.4,462.3 78.8,453.0 144.8,453.0 144.8,521.3 127.0,518.2 109.9,513.6 91.3,508.9 75.7,502.7 63.3,493.4 58.6,484.0" fill="#a7ab4f" />
<polygon points="72.6,471.6 73.4,462.3 76.0,457.0 78.8,453.0 82.0,449.5 86.6,446.8 91.0,444.8 95.2,443.6 102.0,441.5 109.9,440.5 123.9,439.8 130.1,442.1 136.3,448.3 142.5,451.4 144.8,452.0 145.5,513.8 133.2,510.7 117.7,505.2 102.2,501.3 88.2,495.1 81.0,489.0 77.3,485.6 74.0,480.0 72.6,476.3" fill="#7b3434" />
<polygon points="80.4,471.6 81.0,466.0 82.0,460.7 85.0,455.5 88.2,451.4 92.0,447.5 97.5,443.6 103.0,441.5 109.9,440.5 117.0,440.0 123.9,439.8 130.1,442.1 133.0,445.0 136.3,448.3 140.0,450.5 142.5,451.4 144.8,452.0 144.8,511.4 136.0,508.7 127.0,506.0 117.0,502.7 108.4,499.8 100.0,495.7 92.8,492.0 87.0,486.2 83.5,481.0 81.0,476.0" fill="#3b62a7" />
<polygon points="85.1,473.2 85.5,467.0 86.6,462.3 89.5,458.0 92.8,454.5 97.0,450.5 102.2,446.8 107.0,445.5 113.0,444.4 118.0,444.4 124.7,445.2 125.5,448.0 125.5,451.4 124.0,456.0 122.3,460.7 124.0,466.0 127.0,471.6 131.0,477.0 134.8,482.5 137.0,488.0 139.4,493.4 142.0,494.5 144.8,494.9 144.8,508.9 140.0,508.3 136.3,507.4 129.0,504.5 122.3,501.1 114.0,498.0 105.3,494.9 98.0,491.2 91.3,487.2 88.0,484.0 85.8,480.9" fill="#d01010" />
<polygon points="131.5,464.0 134.0,459.0 136.4,456.7 140.4,457.6 139.5,462.0 141.0,464.5 144.6,467.0 144.6,481.4 142.0,484.0 140.4,485.3 136.4,484.3 134.0,480.0 132.3,476.0" fill="#d01010" />
<polygon points="19.7,445.5 25.0,445.2 33.3,445.3 40.7,446.3 47.6,450.7 53.1,455.7 53.8,458.6 52.0,463.0 50.6,466.5 47.6,473.5 44.7,480.4 41.7,483.6 40.7,485.3 34.8,486.8 31.5,489.3 27.9,489.3 24.9,487.3 19.9,485.3" fill="#f8731c" />
<polygon points="19.7,445.3 31.5,445.3 36.5,446.8 40.5,450.5 44.0,455.0 45.6,460.0 44.5,466.0 43.0,471.0 41.5,475.5 39.5,479.0 36.5,481.5 31.0,482.5 19.7,482.8" fill="#6c35a2" />
<polygon points="222.4,437.2 227.2,435.4 232.0,437.2 238.0,440.2 244.0,441.4 253.5,441.4 261.9,442.0 267.9,440.8 276.3,439.0 282.3,440.2 289.5,443.2 294.3,448.0 295.4,454.0 295.4,499.5 293.0,505.4 287.1,509.0 279.9,512.6 271.5,517.4 265.5,518.6 255.9,519.2 249.9,516.2 246.3,513.8 240.0,514.0 225.0,500.0 215.0,470.0 215.0,445.0" fill="#3b62a7" />
<polygon points="168.9,486.0 183.7,486.0 199.5,483.5 211.4,484.5 221.3,488.5 227.2,494.5 231.2,502.5 233.2,512.5 235.5,518.5 234.2,521.0 230.2,522.5 219.3,526.0 199.5,530.0 179.8,531.0 168.9,529.3" fill="#4db3ad" />
<polygon points="168.9,463.0 179.8,459.5 195.6,459.5 207.5,461.0 213.0,461.5 220.0,461.5 227.2,462.0 234.6,463.0 237.5,472.2 237.5,478.0 241.9,488.2 244.8,496.9 245.5,513.0 239.1,514.3 236.8,517.5 235.5,520.0 233.0,512.9 231.2,503.1 227.2,495.1 221.3,489.2 211.4,485.3 199.5,484.3 183.7,487.2 168.9,488.2" fill="#d01010" />
<polygon points="168.9,447.2 185.7,447.2 199.5,443.2 215.4,442.2 223.5,442.2 225.5,451.6 221.3,458.6 215.4,462.5 209.4,464.5 199.5,462.5 189.7,462.5 179.8,463.5 168.9,467.8" fill="#7b3434" />
<polygon points="168.9,425.9 189.7,426.9 205.5,430.9 215.4,434.8 221.3,439.8 223.5,442.9 215.4,442.9 199.5,443.9 185.7,447.9 168.9,447.9" fill="#f8731c" />
<polygon points="196.9,463.5 202.7,462.1 208.5,463.5 214.3,460.6 215.8,457.0 219.4,457.0 222.3,452.6 223.7,446.1 223.0,441.8 225.9,443.2 228.8,451.9 233.2,462.1 234.6,465.0 227.4,465.0 224.5,467.9 223.0,473.7 220.1,476.6 215.8,475.1 212.9,469.3 207.1,466.4 199.8,465.7" fill="#a7ab4f" />
<polygon points="248.7,449.2 255.9,448.0 265.5,443.2 276.3,439.3 282.3,440.5 289.5,443.5 294.3,448.3 295.4,454.0 295.4,471.9 291.9,473.1 284.7,470.7 277.5,471.9 272.7,473.1 270.3,469.5 275.1,465.9 272.7,463.5 267.9,461.1 264.3,459.9 260.7,463.5 255.9,464.7 249.9,465.9 241.6,465.9 234.4,463.5 233.2,460.5 238.0,458.7 244.0,456.3 251.1,455.7 255.9,455.7 259.5,454.0 255.9,452.8 249.9,452.2" fill="#6c35a2" />
<polygon points="233.8,474.3 239.2,469.5 244.0,469.5 242.8,473.1 239.2,476.7 238.0,482.7 240.4,488.7 244.0,493.5 248.7,491.1 253.5,485.1 257.1,485.1 260.7,489.9 261.3,497.1 258.3,504.3 253.5,511.4 249.9,513.8 246.3,513.8 245.7,506.6 245.1,497.1 241.6,489.9 238.0,483.9 234.4,475.5" fill="#3a9158" />
<ellipse cx="244.3" cy="485" rx="5" ry="10.5" transform="rotate(-12 244.3 485)" fill="#d35fc2"/>
<polygon points="274.7,472.3 282.0,469.8 289.4,473.1 295.3,473.9 295.3,494.4 289.4,495.2 287.8,505.9 283.7,507.5 281.2,502.6 280.4,494.4 278.0,491.1 269.8,492.0 269.0,490.3 273.9,488.7 272.2,484.6 273.0,476.4" fill="#d35fc2" />
<polygon points="275.5,475.6 281.0,474.8 288.0,474.6 295.3,475.2 295.3,485.4 287.8,484.6 281.2,485.4 275.5,487.9 274.5,482.0" fill="#3a9158" />
<polygon points="272.0,493.0 278.0,492.8 280.0,496.9 281.2,505.1 280.5,512.0 278.5,511.5 276.5,508.5 273.5,503.5 271.5,498.5" fill="#3a9158" />
<polygon points="285.0,496.5 290.0,496.0 295.3,495.5 295.3,500.5 292.0,505.9 288.0,509.2 283.0,511.8 283.5,507.0 285.5,502.0" fill="#3a9158" />
<polyline points="260.3,486.2 264.8,492 268.1,501 267.3,509.2 263.2,513.3 255,514.8" fill="none" stroke="#d35fc2" stroke-width="3.2" stroke-linejoin="round"/>
<polyline points="269.5,497.5 272.4,503.2 276.2,509 278.8,511.6" fill="none" stroke="#d35fc2" stroke-width="2.4" stroke-linejoin="round"/>
<circle cx="272.6" cy="522" r="1.2" fill="#3b62a7"/>
</g>
<circle cx="153.6" cy="442.2" r="2.6" fill="#3a6fb0"/>
<text x="157.6" y="445.0" font-size="9.8" text-anchor="start" fill="#222" font-weight="normal" font-family='"Liberation Sans", sans-serif' >1</text>
<circle cx="153.6" cy="453.8" r="2.6" fill="#f47920"/>
<text x="157.6" y="456.6" font-size="9.8" text-anchor="start" fill="#222" font-weight="normal" font-family='"Liberation Sans", sans-serif' >2</text>
<circle cx="153.6" cy="465.3" r="2.6" fill="#3f9e6a"/>
<text x="157.6" y="468.1" font-size="9.8" text-anchor="start" fill="#222" font-weight="normal" font-family='"Liberation Sans", sans-serif' >3</text>
<circle cx="153.6" cy="476.9" r="2.6" fill="#c83232"/>
<text x="157.6" y="479.7" font-size="9.8" text-anchor="start" fill="#222" font-weight="normal" font-family='"Liberation Sans", sans-serif' >4</text>
<circle cx="153.6" cy="488.1" r="2.6" fill="#7843b3"/>
<text x="157.6" y="490.90000000000003" font-size="9.8" text-anchor="start" fill="#222" font-weight="normal" font-family='"Liberation Sans", sans-serif' >5</text>
<circle cx="153.6" cy="499.6" r="2.6" fill="#7b4a3f"/>
<text x="157.6" y="502.40000000000003" font-size="9.8" text-anchor="start" fill="#222" font-weight="normal" font-family='"Liberation Sans", sans-serif' >6</text>
<circle cx="153.6" cy="510.9" r="2.6" fill="#d77fcc"/>
<text x="157.6" y="513.6999999999999" font-size="9.8" text-anchor="start" fill="#222" font-weight="normal" font-family='"Liberation Sans", sans-serif' >7</text>
<circle cx="153.6" cy="522.5" r="2.6" fill="#a8ad62"/>
<text x="157.6" y="525.3" font-size="9.8" text-anchor="start" fill="#222" font-weight="normal" font-family='"Liberation Sans", sans-serif' >8</text>
<circle cx="304.9" cy="433" r="2.6" fill="#3a6fb0"/>
<text x="308.3" y="435.8" font-size="9.8" text-anchor="start" fill="#222" font-weight="normal" font-family='"Liberation Sans", sans-serif' >1</text>
<circle cx="304.9" cy="444.6" r="2.6" fill="#f47920"/>
<text x="308.3" y="447.40000000000003" font-size="9.8" text-anchor="start" fill="#222" font-weight="normal" font-family='"Liberation Sans", sans-serif' >2</text>
<circle cx="304.9" cy="456.2" r="2.6" fill="#3f9e6a"/>
<text x="308.3" y="459.0" font-size="9.8" text-anchor="start" fill="#222" font-weight="normal" font-family='"Liberation Sans", sans-serif' >3</text>
<circle cx="304.9" cy="468.2" r="2.6" fill="#c83232"/>
<text x="308.3" y="471.0" font-size="9.8" text-anchor="start" fill="#222" font-weight="normal" font-family='"Liberation Sans", sans-serif' >4</text>
<circle cx="304.9" cy="480.1" r="2.6" fill="#7843b3"/>
<text x="308.3" y="482.90000000000003" font-size="9.8" text-anchor="start" fill="#222" font-weight="normal" font-family='"Liberation Sans", sans-serif' >5</text>
<circle cx="304.9" cy="492" r="2.6" fill="#7b4a3f"/>
<text x="308.3" y="494.8" font-size="9.8" text-anchor="start" fill="#222" font-weight="normal" font-family='"Liberation Sans", sans-serif' >6</text>
<circle cx="304.9" cy="503.6" r="2.6" fill="#d77fcc"/>
<text x="308.3" y="506.40000000000003" font-size="9.8" text-anchor="start" fill="#222" font-weight="normal" font-family='"Liberation Sans", sans-serif' >7</text>
<circle cx="304.9" cy="515.3" r="2.6" fill="#a8ad62"/>
<text x="308.3" y="518.0999999999999" font-size="9.8" text-anchor="start" fill="#222" font-weight="normal" font-family='"Liberation Sans", sans-serif' >8</text>
<circle cx="304.9" cy="527.2" r="2.6" fill="#52c0cc"/>
<text x="308.3" y="530.0" font-size="9.8" text-anchor="start" fill="#222" font-weight="normal" font-family='"Liberation Sans", sans-serif' >9</text>
<text x="319.2" y="392.9" font-size="12.8" text-anchor="start" fill="#000" font-weight="bold" font-family='"Liberation Sans", sans-serif' >c</text>
<line x1="365.2" y1="394.1" x2="365.2" y2="535.4" stroke="#2a2a2a" stroke-width="1.2" />
<line x1="364.59999999999997" y1="534.8" x2="499.4" y2="534.8" stroke="#2a2a2a" stroke-width="1.2" />
<line x1="362.7" y1="528.3" x2="365.2" y2="528.3" stroke="#2a2a2a" stroke-width="1.0" />
<text x="361.3" y="531.5999999999999" font-size="9.7" text-anchor="end" fill="#222" font-weight="normal" font-family='"Liberation Sans", sans-serif' >0.00</text>
<line x1="371.7" y1="534.8" x2="371.7" y2="537.3" stroke="#2a2a2a" stroke-width="1.0" />
<text x="371.7" y="546.6" font-size="9.7" text-anchor="middle" fill="#222" font-weight="normal" font-family='"Liberation Sans", sans-serif' >0.00</text>
<line x1="362.7" y1="496.525" x2="365.2" y2="496.525" stroke="#2a2a2a" stroke-width="1.0" />
<text x="361.3" y="499.825" font-size="9.7" text-anchor="end" fill="#222" font-weight="normal" font-family='"Liberation Sans", sans-serif' >0.25</text>
<line x1="402.0" y1="534.8" x2="402.0" y2="537.3" stroke="#2a2a2a" stroke-width="1.0" />
<text x="402.0" y="546.6" font-size="9.7" text-anchor="middle" fill="#222" font-weight="normal" font-family='"Liberation Sans", sans-serif' >0.25</text>
<line x1="362.7" y1="464.75" x2="365.2" y2="464.75" stroke="#2a2a2a" stroke-width="1.0" />
<text x="361.3" y="468.05" font-size="9.7" text-anchor="end" fill="#222" font-weight="normal" font-family='"Liberation Sans", sans-serif' >0.50</text>
<line x1="432.29999999999995" y1="534.8" x2="432.29999999999995" y2="537.3" stroke="#2a2a2a" stroke-width="1.0" />
<text x="432.29999999999995" y="546.6" font-size="9.7" text-anchor="middle" fill="#222" font-weight="normal" font-family='"Liberation Sans", sans-serif' >0.50</text>
<line x1="362.7" y1="432.97499999999997" x2="365.2" y2="432.97499999999997" stroke="#2a2a2a" stroke-width="1.0" />
<text x="361.3" y="436.275" font-size="9.7" text-anchor="end" fill="#222" font-weight="normal" font-family='"Liberation Sans", sans-serif' >0.75</text>
<line x1="462.59999999999997" y1="534.8" x2="462.59999999999997" y2="537.3" stroke="#2a2a2a" stroke-width="1.0" />
<text x="462.59999999999997" y="546.6" font-size="9.7" text-anchor="middle" fill="#222" font-weight="normal" font-family='"Liberation Sans", sans-serif' >0.75</text>
<line x1="362.7" y1="401.2" x2="365.2" y2="401.2" stroke="#2a2a2a" stroke-width="1.0" />
<text x="361.3" y="404.5" font-size="9.7" text-anchor="end" fill="#222" font-weight="normal" font-family='"Liberation Sans", sans-serif' >1.00</text>
<line x1="492.9" y1="534.8" x2="492.9" y2="537.3" stroke="#2a2a2a" stroke-width="1.0" />
<text x="492.9" y="546.6" font-size="9.7" text-anchor="middle" fill="#222" font-weight="normal" font-family='"Liberation Sans", sans-serif' >1.00</text>
<text x="431.5" y="562.6" font-size="9.6" text-anchor="middle" fill="#1a1a1a" font-weight="bold" font-family='"Liberation Sans", sans-serif' >λ</text>
<text x="338.1" y="464.8" font-size="9.8" text-anchor="middle" fill="#1a1a1a" font-weight="normal" font-family='"Liberation Sans", sans-serif' transform="rotate(-90 338.1 464.8)">ARI</text>
<path d="M371.90,442.60 C373.87,441.62 379.68,438.02 383.70,436.70 C387.72,435.38 392.37,435.10 396.00,434.70 C399.63,434.30 402.27,433.80 405.50,434.30 C408.73,434.80 411.45,436.38 415.40,437.70 C419.35,439.02 423.60,441.05 429.20,442.20 C434.80,443.35 442.33,443.87 449.00,444.60 C455.67,445.33 461.78,446.00 469.20,446.60 C476.62,447.20 489.45,447.93 493.50,448.20" fill="none" stroke="#56bcd6" stroke-opacity="0.25" stroke-width="5" stroke-linecap="round"/>
<path d="M371.90,452.50 C373.87,451.02 379.68,446.23 383.70,443.60 C387.72,440.97 392.03,438.83 396.00,436.70 C399.97,434.57 403.62,432.35 407.50,430.80 C411.38,429.25 415.02,428.17 419.30,427.40 C423.58,426.63 428.25,426.30 433.20,426.20 C438.15,426.10 443.00,426.37 449.00,426.80 C455.00,427.23 461.78,428.40 469.20,428.80 C476.62,429.20 489.45,429.13 493.50,429.20" fill="none" stroke="#2e9f80" stroke-opacity="0.25" stroke-width="5" stroke-linecap="round"/>
<path d="M371.90,446.00 C373.87,444.95 379.68,441.32 383.70,439.70 C387.72,438.08 392.03,437.17 396.00,436.30 C399.97,435.43 402.62,434.70 407.50,434.50 C412.38,434.30 420.03,434.73 425.30,435.10 C430.57,435.47 434.17,436.00 439.10,436.70 C444.03,437.40 449.88,438.58 454.90,439.30 C459.92,440.02 462.77,440.52 469.20,441.00 C475.63,441.48 489.45,442.00 493.50,442.20" fill="none" stroke="#2d3d80" stroke-opacity="0.25" stroke-width="5" stroke-linecap="round"/>
<path d="M371.90,447.60 C373.22,446.28 376.83,442.18 379.80,439.70 C382.77,437.22 387.00,434.52 389.70,432.70 C392.40,430.88 393.37,430.02 396.00,428.80 C398.63,427.58 402.27,426.07 405.50,425.40 C408.73,424.73 412.10,424.80 415.40,424.80 C418.70,424.80 422.33,425.17 425.30,425.40 C428.27,425.63 431.88,426.07 433.20,426.20" fill="none" stroke="#df4a37" stroke-opacity="0.25" stroke-width="5" stroke-linecap="round"/>
<path d="M371.90,442.60 C373.87,441.62 379.68,438.02 383.70,436.70 C387.72,435.38 392.37,435.10 396.00,434.70 C399.63,434.30 402.27,433.80 405.50,434.30 C408.73,434.80 411.45,436.38 415.40,437.70 C419.35,439.02 423.60,441.05 429.20,442.20 C434.80,443.35 442.33,443.87 449.00,444.60 C455.67,445.33 461.78,446.00 469.20,446.60 C476.62,447.20 489.45,447.93 493.50,448.20" fill="none" stroke="#56bcd6" stroke-width="1.6" stroke-linecap="round"/>
<path d="M371.90,452.50 C373.87,451.02 379.68,446.23 383.70,443.60 C387.72,440.97 392.03,438.83 396.00,436.70 C399.97,434.57 403.62,432.35 407.50,430.80 C411.38,429.25 415.02,428.17 419.30,427.40 C423.58,426.63 428.25,426.30 433.20,426.20 C438.15,426.10 443.00,426.37 449.00,426.80 C455.00,427.23 461.78,428.40 469.20,428.80 C476.62,429.20 489.45,429.13 493.50,429.20" fill="none" stroke="#2e9f80" stroke-width="1.6" stroke-linecap="round"/>
<path d="M371.90,446.00 C373.87,444.95 379.68,441.32 383.70,439.70 C387.72,438.08 392.03,437.17 396.00,436.30 C399.97,435.43 402.62,434.70 407.50,434.50 C412.38,434.30 420.03,434.73 425.30,435.10 C430.57,435.47 434.17,436.00 439.10,436.70 C444.03,437.40 449.88,438.58 454.90,439.30 C459.92,440.02 462.77,440.52 469.20,441.00 C475.63,441.48 489.45,442.00 493.50,442.20" fill="none" stroke="#2d3d80" stroke-width="1.6" stroke-linecap="round"/>
<path d="M371.90,447.60 C373.22,446.28 376.83,442.18 379.80,439.70 C382.77,437.22 387.00,434.52 389.70,432.70 C392.40,430.88 393.37,430.02 396.00,428.80 C398.63,427.58 402.27,426.07 405.50,425.40 C408.73,424.73 412.10,424.80 415.40,424.80 C418.70,424.80 422.33,425.17 425.30,425.40 C428.27,425.63 431.88,426.07 433.20,426.20" fill="none" stroke="#df4a37" stroke-width="1.6" stroke-linecap="round"/>
<line x1="395.9" y1="394.4" x2="395.9" y2="534.8" stroke="#2a2a2a" stroke-width="1.4" stroke-dasharray="3.9,2.4"/>
<line x1="469.2" y1="394.4" x2="469.2" y2="534.8" stroke="#2a2a2a" stroke-width="1.4" stroke-dasharray="3.9,2.4"/>
<text x="505.2" y="393.2" font-size="12.8" text-anchor="start" fill="#000" font-weight="bold" font-family='"Liberation Sans", sans-serif' >d</text>
<line x1="543.5" y1="402.9" x2="543.5" y2="533.4" stroke="#2a2a2a" stroke-width="1.2" />
<line x1="542.9" y1="532.8" x2="708" y2="532.8" stroke="#2a2a2a" stroke-width="1.2" />
<line x1="541.0" y1="519.0" x2="543.5" y2="519.0" stroke="#2a2a2a" stroke-width="1.0" />
<text x="535.1" y="521.8" font-size="9.7" text-anchor="end" fill="#222" font-weight="normal" font-family='"Liberation Sans", sans-serif' >0.0</text>
<line x1="541.0" y1="492.175" x2="543.5" y2="492.175" stroke="#2a2a2a" stroke-width="1.0" />
<text x="535.1" y="494.975" font-size="9.7" text-anchor="end" fill="#222" font-weight="normal" font-family='"Liberation Sans", sans-serif' >0.2</text>
<line x1="541.0" y1="465.35" x2="543.5" y2="465.35" stroke="#2a2a2a" stroke-width="1.0" />
<text x="535.1" y="468.15000000000003" font-size="9.7" text-anchor="end" fill="#222" font-weight="normal" font-family='"Liberation Sans", sans-serif' >0.4</text>
<line x1="541.0" y1="438.525" x2="543.5" y2="438.525" stroke="#2a2a2a" stroke-width="1.0" />
<text x="535.1" y="441.325" font-size="9.7" text-anchor="end" fill="#222" font-weight="normal" font-family='"Liberation Sans", sans-serif' >0.6</text>
<line x1="541.0" y1="411.7" x2="543.5" y2="411.7" stroke="#2a2a2a" stroke-width="1.0" />
<text x="535.1" y="414.5" font-size="9.7" text-anchor="end" fill="#222" font-weight="normal" font-family='"Liberation Sans", sans-serif' >0.8</text>
<text x="518" y="465.2" font-size="9.8" text-anchor="middle" fill="#1a1a1a" font-weight="normal" font-family='"Liberation Sans", sans-serif' transform="rotate(-90 518 465.2)">ARI</text>
<line x1="555.55" y1="414.3825" x2="555.55" y2="408.74924999999996" stroke="#2a2a2a" stroke-width="1.4" />
<line x1="553.15" y1="408.74924999999996" x2="557.9499999999999" y2="408.74924999999996" stroke="#2a2a2a" stroke-width="1.4" />
<rect x="546.40" y="414.38" width="18.3" height="104.62" fill="#d94b37"/>
<line x1="555.55" y1="532.8" x2="555.55" y2="535.0" stroke="#555" stroke-width="0.9" />
<text x="560.55" y="541" font-size="9.6" text-anchor="end" fill="#222" font-weight="normal" font-family='"Liberation Sans", sans-serif' transform="rotate(-45 560.55 541)">GrapPCA</text>
<line x1="575.63" y1="444.56062499999996" x2="575.63" y2="438.79325" stroke="#2a2a2a" stroke-width="1.4" />
<line x1="573.23" y1="438.79325" x2="578.03" y2="438.79325" stroke="#2a2a2a" stroke-width="1.4" />
<rect x="566.48" y="444.56" width="18.3" height="74.44" fill="#5dbcd2"/>
<line x1="575.63" y1="532.8" x2="575.63" y2="535.0" stroke="#555" stroke-width="0.9" />
<text x="580.63" y="541" font-size="9.6" text-anchor="end" fill="#222" font-weight="normal" font-family='"Liberation Sans", sans-serif' transform="rotate(-45 580.63 541)">PCA</text>
<line x1="595.7099999999999" y1="481.445" x2="595.7099999999999" y2="435.171875" stroke="#2a2a2a" stroke-width="1.4" />
<line x1="593.31" y1="435.171875" x2="598.1099999999999" y2="435.171875" stroke="#2a2a2a" stroke-width="1.4" />
<rect x="586.56" y="481.44" width="18.3" height="37.56" fill="#3a9d86"/>
<line x1="595.7099999999999" y1="532.8" x2="595.7099999999999" y2="535.0" stroke="#555" stroke-width="0.9" />
<text x="600.7099999999999" y="541" font-size="9.6" text-anchor="end" fill="#222" font-weight="normal" font-family='"Liberation Sans", sans-serif' transform="rotate(-45 600.71 541)">NMF</text>
<line x1="615.79" y1="419.076875" x2="615.79" y2="410.35875" stroke="#2a2a2a" stroke-width="1.4" />
<line x1="613.39" y1="410.35875" x2="618.1899999999999" y2="410.35875" stroke="#2a2a2a" stroke-width="1.4" />
<rect x="606.64" y="419.08" width="18.3" height="99.92" fill="#3e4c80"/>
<line x1="615.79" y1="532.8" x2="615.79" y2="535.0" stroke="#555" stroke-width="0.9" />
<text x="620.79" y="541" font-size="9.6" text-anchor="end" fill="#222" font-weight="normal" font-family='"Liberation Sans", sans-serif' transform="rotate(-45 620.79 541)">SpaGCN</text>
<line x1="635.87" y1="432.489375" x2="635.87" y2="426.45375" stroke="#2a2a2a" stroke-width="1.4" />
<line x1="633.47" y1="426.45375" x2="638.27" y2="426.45375" stroke="#2a2a2a" stroke-width="1.4" />
<rect x="626.72" y="432.49" width="18.3" height="86.51" fill="#f29a82"/>
<line x1="635.87" y1="532.8" x2="635.87" y2="535.0" stroke="#555" stroke-width="0.9" />
<text x="640.87" y="541" font-size="9.6" text-anchor="end" fill="#222" font-weight="normal" font-family='"Liberation Sans", sans-serif' transform="rotate(-45 640.87 541)">STAGATE</text>
<line x1="655.9499999999999" y1="416.39437499999997" x2="655.9499999999999" y2="412.638875" stroke="#2a2a2a" stroke-width="1.4" />
<line x1="653.55" y1="412.638875" x2="658.3499999999999" y2="412.638875" stroke="#2a2a2a" stroke-width="1.4" />
<rect x="646.80" y="416.39" width="18.3" height="102.61" fill="#8691b6"/>
<line x1="655.9499999999999" y1="532.8" x2="655.9499999999999" y2="535.0" stroke="#555" stroke-width="0.9" />
<text x="660.9499999999999" y="541" font-size="9.6" text-anchor="end" fill="#222" font-weight="normal" font-family='"Liberation Sans", sans-serif' transform="rotate(-45 660.95 541)">BayesSpace</text>
<line x1="676.03" y1="419.076875" x2="676.03" y2="412.370625" stroke="#2a2a2a" stroke-width="1.4" />
<line x1="673.63" y1="412.370625" x2="678.43" y2="412.370625" stroke="#2a2a2a" stroke-width="1.4" />
<rect x="666.88" y="419.08" width="18.3" height="99.92" fill="#a5e0d2"/>
<line x1="676.03" y1="532.8" x2="676.03" y2="535.0" stroke="#555" stroke-width="0.9" />
<text x="681.03" y="541" font-size="9.6" text-anchor="end" fill="#222" font-weight="normal" font-family='"Liberation Sans", sans-serif' transform="rotate(-45 681.03 541)">DR-SC</text>
<line x1="696.11" y1="429.806875" x2="696.11" y2="416.39437499999997" stroke="#2a2a2a" stroke-width="1.4" />
<line x1="693.71" y1="416.39437499999997" x2="698.51" y2="416.39437499999997" stroke="#2a2a2a" stroke-width="1.4" />
<rect x="686.96" y="429.81" width="18.3" height="89.19" fill="#6e5343"/>
<line x1="696.11" y1="532.8" x2="696.11" y2="535.0" stroke="#555" stroke-width="0.9" />
<text x="701.11" y="541" font-size="9.6" text-anchor="end" fill="#222" font-weight="normal" font-family='"Liberation Sans", sans-serif' transform="rotate(-45 701.11 541)">SpatialPCA</text>
<text x="-1.4" y="587.1" font-size="12.8" text-anchor="start" fill="#000" font-weight="bold" font-family='"Liberation Sans", sans-serif' >e</text>
<line x1="37.6" y1="594.2" x2="37.6" y2="748.6" stroke="#2a2a2a" stroke-width="1.2" />
<line x1="37.0" y1="748.0" x2="183.6" y2="748.0" stroke="#2a2a2a" stroke-width="1.2" />
<line x1="35.1" y1="597.5399999999996" x2="37.6" y2="597.5399999999996" stroke="#2a2a2a" stroke-width="1.0" />
<text x="33.5" y="601.1399999999996" font-size="9.6" text-anchor="end" fill="#222" font-weight="normal" font-family='"Liberation Sans", sans-serif' >0.8</text>
<line x1="35.1" y1="637.1299999999997" x2="37.6" y2="637.1299999999997" stroke="#2a2a2a" stroke-width="1.0" />
<text x="33.5" y="640.7299999999997" font-size="9.6" text-anchor="end" fill="#222" font-weight="normal" font-family='"Liberation Sans", sans-serif' >0.6</text>
<line x1="35.1" y1="676.7199999999997" x2="37.6" y2="676.7199999999997" stroke="#2a2a2a" stroke-width="1.0" />
<text x="33.5" y="680.3199999999997" font-size="9.6" text-anchor="end" fill="#222" font-weight="normal" font-family='"Liberation Sans", sans-serif' >0.4</text>
<line x1="35.1" y1="716.3099999999996" x2="37.6" y2="716.3099999999996" stroke="#2a2a2a" stroke-width="1.0" />
<text x="33.5" y="719.9099999999996" font-size="9.6" text-anchor="end" fill="#222" font-weight="normal" font-family='"Liberation Sans", sans-serif' >0.2</text>
<line x1="46.0" y1="748.0" x2="46.0" y2="750.5" stroke="#2a2a2a" stroke-width="1.0" />
<text x="46.0" y="759.5" font-size="9.8" text-anchor="middle" fill="#222" font-weight="normal" font-family='"Liberation Sans", sans-serif' >10</text>
<line x1="60.3" y1="748.0" x2="60.3" y2="750.5" stroke="#2a2a2a" stroke-width="1.0" />
<text x="60.3" y="759.5" font-size="9.8" text-anchor="middle" fill="#222" font-weight="normal" font-family='"Liberation Sans", sans-serif' >20</text>
<line x1="74.6" y1="748.0" x2="74.6" y2="750.5" stroke="#2a2a2a" stroke-width="1.0" />
<text x="74.6" y="759.5" font-size="9.8" text-anchor="middle" fill="#222" font-weight="normal" font-family='"Liberation Sans", sans-serif' >30</text>
<line x1="88.9" y1="748.0" x2="88.9" y2="750.5" stroke="#2a2a2a" stroke-width="1.0" />
<text x="88.9" y="759.5" font-size="9.8" text-anchor="middle" fill="#222" font-weight="normal" font-family='"Liberation Sans", sans-serif' >40</text>
<line x1="103.2" y1="748.0" x2="103.2" y2="750.5" stroke="#2a2a2a" stroke-width="1.0" />
<text x="103.2" y="759.5" font-size="9.8" text-anchor="middle" fill="#222" font-weight="normal" font-family='"Liberation Sans", sans-serif' >50</text>
<line x1="117.5" y1="748.0" x2="117.5" y2="750.5" stroke="#2a2a2a" stroke-width="1.0" />
<text x="117.5" y="759.5" font-size="9.8" text-anchor="middle" fill="#222" font-weight="normal" font-family='"Liberation Sans", sans-serif' >60</text>
<line x1="131.8" y1="748.0" x2="131.8" y2="750.5" stroke="#2a2a2a" stroke-width="1.0" />
<text x="131.8" y="759.5" font-size="9.8" text-anchor="middle" fill="#222" font-weight="normal" font-family='"Liberation Sans", sans-serif' >70</text>
<line x1="146.10000000000002" y1="748.0" x2="146.10000000000002" y2="750.5" stroke="#2a2a2a" stroke-width="1.0" />
<text x="146.10000000000002" y="759.5" font-size="9.8" text-anchor="middle" fill="#222" font-weight="normal" font-family='"Liberation Sans", sans-serif' >80</text>
<line x1="160.4" y1="748.0" x2="160.4" y2="750.5" stroke="#2a2a2a" stroke-width="1.0" />
<text x="160.4" y="759.5" font-size="9.8" text-anchor="middle" fill="#222" font-weight="normal" font-family='"Liberation Sans", sans-serif' >90</text>
<line x1="174.70000000000002" y1="748.0" x2="174.70000000000002" y2="750.5" stroke="#2a2a2a" stroke-width="1.0" />
<text x="174.70000000000002" y="759.5" font-size="9.8" text-anchor="middle" fill="#222" font-weight="normal" font-family='"Liberation Sans", sans-serif' >100</text>
<text x="115.5" y="773.8" font-size="9.7" text-anchor="middle" fill="#222" font-weight="normal" font-family='"Liberation Sans", sans-serif' >Sequencing depth percentage (%)</text>
<text x="15.5" y="671.6" font-size="9.8" text-anchor="middle" fill="#1a1a1a" font-weight="normal" font-family='"Liberation Sans", sans-serif' transform="rotate(-90 15.5 671.6)">ARI</text>
<polyline points="46.00,741.45 60.30,708.00 74.60,702.45 88.90,709.78 103.20,676.72 117.50,676.72 131.80,672.76 146.10,713.93 160.40,718.29 174.70,688.79" fill="none" stroke="#2e9c80" stroke-width="1.05"/>
<circle cx="46.00" cy="741.45" r="2.2" fill="#2e9c80"/>
<circle cx="60.30" cy="708.00" r="2.2" fill="#2e9c80"/>
<circle cx="74.60" cy="702.45" r="2.2" fill="#2e9c80"/>
<circle cx="88.90" cy="709.78" r="2.2" fill="#2e9c80"/>
<circle cx="103.20" cy="676.72" r="2.2" fill="#2e9c80"/>
<circle cx="117.50" cy="676.72" r="2.2" fill="#2e9c80"/>
<circle cx="131.80" cy="672.76" r="2.2" fill="#2e9c80"/>
<circle cx="146.10" cy="713.93" r="2.2" fill="#2e9c80"/>
<circle cx="160.40" cy="718.29" r="2.2" fill="#2e9c80"/>
<circle cx="174.70" cy="688.79" r="2.2" fill="#2e9c80"/>
<polyline points="46.00,716.31 60.30,657.91 74.60,647.62 88.90,647.23 103.20,650.00 117.50,646.04 131.80,641.88 146.10,646.43 160.40,642.28 174.70,642.47" fill="none" stroke="#5ab9d0" stroke-width="1.05"/>
<circle cx="46.00" cy="716.31" r="2.2" fill="#5ab9d0"/>
<circle cx="60.30" cy="657.91" r="2.2" fill="#5ab9d0"/>
<circle cx="74.60" cy="647.62" r="2.2" fill="#5ab9d0"/>
<circle cx="88.90" cy="647.23" r="2.2" fill="#5ab9d0"/>
<circle cx="103.20" cy="650.00" r="2.2" fill="#5ab9d0"/>
<circle cx="117.50" cy="646.04" r="2.2" fill="#5ab9d0"/>
<circle cx="131.80" cy="641.88" r="2.2" fill="#5ab9d0"/>
<circle cx="146.10" cy="646.43" r="2.2" fill="#5ab9d0"/>
<circle cx="160.40" cy="642.28" r="2.2" fill="#5ab9d0"/>
<circle cx="174.70" cy="642.47" r="2.2" fill="#5ab9d0"/>
<polyline points="46.00,722.25 60.30,658.90 74.60,638.12 88.90,636.73 103.20,626.04 117.50,639.90 131.80,628.22 146.10,622.28 160.40,642.08 174.70,630.20" fill="none" stroke="#f29c85" stroke-width="1.05"/>
<circle cx="46.00" cy="722.25" r="2.2" fill="#f29c85"/>
<circle cx="60.30" cy="658.90" r="2.2" fill="#f29c85"/>
<circle cx="74.60" cy="638.12" r="2.2" fill="#f29c85"/>
<circle cx="88.90" cy="636.73" r="2.2" fill="#f29c85"/>
<circle cx="103.20" cy="626.04" r="2.2" fill="#f29c85"/>
<circle cx="117.50" cy="639.90" r="2.2" fill="#f29c85"/>
<circle cx="131.80" cy="628.22" r="2.2" fill="#f29c85"/>
<circle cx="146.10" cy="622.28" r="2.2" fill="#f29c85"/>
<circle cx="160.40" cy="642.08" r="2.2" fill="#f29c85"/>
<circle cx="174.70" cy="630.20" r="2.2" fill="#f29c85"/>
<polyline points="46.00,721.65 60.30,645.05 74.60,632.78 88.90,626.84 103.20,620.50 117.50,625.65 131.80,619.71 146.10,620.90 160.40,625.45 174.70,623.27" fill="none" stroke="#6e5242" stroke-width="1.05"/>
<circle cx="46.00" cy="721.65" r="2.2" fill="#6e5242"/>
<circle cx="60.30" cy="645.05" r="2.2" fill="#6e5242"/>
<circle cx="74.60" cy="632.78" r="2.2" fill="#6e5242"/>
<circle cx="88.90" cy="626.84" r="2.2" fill="#6e5242"/>
<circle cx="103.20" cy="620.50" r="2.2" fill="#6e5242"/>
<circle cx="117.50" cy="625.65" r="2.2" fill="#6e5242"/>
<circle cx="131.80" cy="619.71" r="2.2" fill="#6e5242"/>
<circle cx="146.10" cy="620.90" r="2.2" fill="#6e5242"/>
<circle cx="160.40" cy="625.45" r="2.2" fill="#6e5242"/>
<circle cx="174.70" cy="623.27" r="2.2" fill="#6e5242"/>
<polyline points="46.00,716.31 60.30,647.03 74.60,630.80 88.90,615.36 103.20,612.19 117.50,610.80 131.80,609.61 146.10,609.61 160.40,614.76 174.70,609.42" fill="none" stroke="#9fdccd" stroke-width="1.05"/>
<circle cx="46.00" cy="716.31" r="2.2" fill="#9fdccd"/>
<circle cx="60.30" cy="647.03" r="2.2" fill="#9fdccd"/>
<circle cx="74.60" cy="630.80" r="2.2" fill="#9fdccd"/>
<circle cx="88.90" cy="615.36" r="2.2" fill="#9fdccd"/>
<circle cx="103.20" cy="612.19" r="2.2" fill="#9fdccd"/>
<circle cx="117.50" cy="610.80" r="2.2" fill="#9fdccd"/>
<circle cx="131.80" cy="609.61" r="2.2" fill="#9fdccd"/>
<circle cx="146.10" cy="609.61" r="2.2" fill="#9fdccd"/>
<circle cx="160.40" cy="614.76" r="2.2" fill="#9fdccd"/>
<circle cx="174.70" cy="609.42" r="2.2" fill="#9fdccd"/>
<polyline points="46.00,701.27 60.30,650.59 74.60,631.19 88.90,619.31 103.20,613.38 117.50,607.24 131.80,605.66 146.10,613.38 160.40,604.86 174.70,607.24" fill="none" stroke="#8792bf" stroke-width="1.05"/>
<circle cx="46.00" cy="701.27" r="2.2" fill="#8792bf"/>
<circle cx="60.30" cy="650.59" r="2.2" fill="#8792bf"/>
<circle cx="74.60" cy="631.19" r="2.2" fill="#8792bf"/>
<circle cx="88.90" cy="619.31" r="2.2" fill="#8792bf"/>
<circle cx="103.20" cy="613.38" r="2.2" fill="#8792bf"/>
<circle cx="117.50" cy="607.24" r="2.2" fill="#8792bf"/>
<circle cx="131.80" cy="605.66" r="2.2" fill="#8792bf"/>
<circle cx="146.10" cy="613.38" r="2.2" fill="#8792bf"/>
<circle cx="160.40" cy="604.86" r="2.2" fill="#8792bf"/>
<circle cx="174.70" cy="607.24" r="2.2" fill="#8792bf"/>
<polyline points="46.00,712.75 60.30,644.06 74.60,631.19 88.90,616.94 103.20,618.92 117.50,619.12 131.80,614.56 146.10,617.33 160.40,612.78 174.70,612.98" fill="none" stroke="#3c4a85" stroke-width="1.05"/>
<circle cx="46.00" cy="712.75" r="2.2" fill="#3c4a85"/>
<circle cx="60.30" cy="644.06" r="2.2" fill="#3c4a85"/>
<circle cx="74.60" cy="631.19" r="2.2" fill="#3c4a85"/>
<circle cx="88.90" cy="616.94" r="2.2" fill="#3c4a85"/>
<circle cx="103.20" cy="618.92" r="2.2" fill="#3c4a85"/>
<circle cx="117.50" cy="619.12" r="2.2" fill="#3c4a85"/>
<circle cx="131.80" cy="614.56" r="2.2" fill="#3c4a85"/>
<circle cx="146.10" cy="617.33" r="2.2" fill="#3c4a85"/>
<circle cx="160.40" cy="612.78" r="2.2" fill="#3c4a85"/>
<circle cx="174.70" cy="612.98" r="2.2" fill="#3c4a85"/>
<polyline points="46.00,689.19 60.30,641.09 74.60,627.23 88.90,610.01 103.20,607.83 117.50,605.66 131.80,612.98 146.10,604.07 160.40,604.07 174.70,601.50" fill="none" stroke="#d9503e" stroke-width="1.05"/>
<circle cx="46.00" cy="689.19" r="2.2" fill="#d9503e"/>
<circle cx="60.30" cy="641.09" r="2.2" fill="#d9503e"/>
<circle cx="74.60" cy="627.23" r="2.2" fill="#d9503e"/>
<circle cx="88.90" cy="610.01" r="2.2" fill="#d9503e"/>
<circle cx="103.20" cy="607.83" r="2.2" fill="#d9503e"/>
<circle cx="117.50" cy="605.66" r="2.2" fill="#d9503e"/>
<circle cx="131.80" cy="612.98" r="2.2" fill="#d9503e"/>
<circle cx="146.10" cy="604.07" r="2.2" fill="#d9503e"/>
<circle cx="160.40" cy="604.07" r="2.2" fill="#d9503e"/>
<circle cx="174.70" cy="601.50" r="2.2" fill="#d9503e"/>
<line x1="212.3" y1="594.2" x2="212.3" y2="748.6" stroke="#2a2a2a" stroke-width="1.2" />
<line x1="211.70000000000002" y1="748.0" x2="356.6" y2="748.0" stroke="#2a2a2a" stroke-width="1.2" />
<line x1="209.8" y1="628.2900000000001" x2="212.3" y2="628.2900000000001" stroke="#2a2a2a" stroke-width="1.0" />
<text x="208.5" y="631.8900000000001" font-size="9.6" text-anchor="end" fill="#222" font-weight="normal" font-family='"Liberation Sans", sans-serif' >0.6</text>
<line x1="209.8" y1="666.33" x2="212.3" y2="666.33" stroke="#2a2a2a" stroke-width="1.0" />
<text x="208.5" y="669.9300000000001" font-size="9.6" text-anchor="end" fill="#222" font-weight="normal" font-family='"Liberation Sans", sans-serif' >0.4</text>
<line x1="209.8" y1="704.3699999999999" x2="212.3" y2="704.3699999999999" stroke="#2a2a2a" stroke-width="1.0" />
<text x="208.5" y="707.9699999999999" font-size="9.6" text-anchor="end" fill="#222" font-weight="normal" font-family='"Liberation Sans", sans-serif' >0.2</text>
<line x1="209.8" y1="742.4099999999999" x2="212.3" y2="742.4099999999999" stroke="#2a2a2a" stroke-width="1.0" />
<text x="208.5" y="746.0099999999999" font-size="9.6" text-anchor="end" fill="#222" font-weight="normal" font-family='"Liberation Sans", sans-serif' >0.0</text>
<line x1="220.2" y1="748.0" x2="220.2" y2="750.5" stroke="#2a2a2a" stroke-width="1.0" />
<text x="220.2" y="759.5" font-size="9.8" text-anchor="middle" fill="#222" font-weight="normal" font-family='"Liberation Sans", sans-serif' >10</text>
<line x1="234.57" y1="748.0" x2="234.57" y2="750.5" stroke="#2a2a2a" stroke-width="1.0" />
<text x="234.57" y="759.5" font-size="9.8" text-anchor="middle" fill="#222" font-weight="normal" font-family='"Liberation Sans", sans-serif' >20</text>
<line x1="248.94" y1="748.0" x2="248.94" y2="750.5" stroke="#2a2a2a" stroke-width="1.0" />
<text x="248.94" y="759.5" font-size="9.8" text-anchor="middle" fill="#222" font-weight="normal" font-family='"Liberation Sans", sans-serif' >30</text>
<line x1="263.31" y1="748.0" x2="263.31" y2="750.5" stroke="#2a2a2a" stroke-width="1.0" />
<text x="263.31" y="759.5" font-size="9.8" text-anchor="middle" fill="#222" font-weight="normal" font-family='"Liberation Sans", sans-serif' >40</text>
<line x1="277.68" y1="748.0" x2="277.68" y2="750.5" stroke="#2a2a2a" stroke-width="1.0" />
<text x="277.68" y="759.5" font-size="9.8" text-anchor="middle" fill="#222" font-weight="normal" font-family='"Liberation Sans", sans-serif' >50</text>
<line x1="292.04999999999995" y1="748.0" x2="292.04999999999995" y2="750.5" stroke="#2a2a2a" stroke-width="1.0" />
<text x="292.04999999999995" y="759.5" font-size="9.8" text-anchor="middle" fill="#222" font-weight="normal" font-family='"Liberation Sans", sans-serif' >60</text>
<line x1="306.41999999999996" y1="748.0" x2="306.41999999999996" y2="750.5" stroke="#2a2a2a" stroke-width="1.0" />
<text x="306.41999999999996" y="759.5" font-size="9.8" text-anchor="middle" fill="#222" font-weight="normal" font-family='"Liberation Sans", sans-serif' >70</text>
<line x1="320.78999999999996" y1="748.0" x2="320.78999999999996" y2="750.5" stroke="#2a2a2a" stroke-width="1.0" />
<text x="320.78999999999996" y="759.5" font-size="9.8" text-anchor="middle" fill="#222" font-weight="normal" font-family='"Liberation Sans", sans-serif' >80</text>
<line x1="335.15999999999997" y1="748.0" x2="335.15999999999997" y2="750.5" stroke="#2a2a2a" stroke-width="1.0" />
<text x="335.15999999999997" y="759.5" font-size="9.8" text-anchor="middle" fill="#222" font-weight="normal" font-family='"Liberation Sans", sans-serif' >90</text>
<line x1="349.53" y1="748.0" x2="349.53" y2="750.5" stroke="#2a2a2a" stroke-width="1.0" />
<text x="349.53" y="759.5" font-size="9.8" text-anchor="middle" fill="#222" font-weight="normal" font-family='"Liberation Sans", sans-serif' >100</text>
<text x="287" y="773.8" font-size="9.7" text-anchor="middle" fill="#222" font-weight="normal" font-family='"Liberation Sans", sans-serif' >Noise strength level (%)</text>
<polyline points="220.20,684.59 234.57,711.41 248.94,726.62 263.31,725.29 277.68,728.72 292.05,731.38 306.42,734.04 320.79,737.27 335.16,738.42 349.53,738.23" fill="none" stroke="#2e9c80" stroke-width="1.05"/>
<circle cx="220.20" cy="684.59" r="2.2" fill="#2e9c80"/>
<circle cx="234.57" cy="711.41" r="2.2" fill="#2e9c80"/>
<circle cx="248.94" cy="726.62" r="2.2" fill="#2e9c80"/>
<circle cx="263.31" cy="725.29" r="2.2" fill="#2e9c80"/>
<circle cx="277.68" cy="728.72" r="2.2" fill="#2e9c80"/>
<circle cx="292.05" cy="731.38" r="2.2" fill="#2e9c80"/>
<circle cx="306.42" cy="734.04" r="2.2" fill="#2e9c80"/>
<circle cx="320.79" cy="737.27" r="2.2" fill="#2e9c80"/>
<circle cx="335.16" cy="738.42" r="2.2" fill="#2e9c80"/>
<circle cx="349.53" cy="738.23" r="2.2" fill="#2e9c80"/>
<polyline points="220.20,643.32 234.57,657.58 248.94,673.37 263.31,683.83 277.68,689.91 292.05,695.62 306.42,699.61 320.79,703.04 335.16,705.70 349.53,708.36" fill="none" stroke="#5ab9d0" stroke-width="1.05"/>
<circle cx="220.20" cy="643.32" r="2.2" fill="#5ab9d0"/>
<circle cx="234.57" cy="657.58" r="2.2" fill="#5ab9d0"/>
<circle cx="248.94" cy="673.37" r="2.2" fill="#5ab9d0"/>
<circle cx="263.31" cy="683.83" r="2.2" fill="#5ab9d0"/>
<circle cx="277.68" cy="689.91" r="2.2" fill="#5ab9d0"/>
<circle cx="292.05" cy="695.62" r="2.2" fill="#5ab9d0"/>
<circle cx="306.42" cy="699.61" r="2.2" fill="#5ab9d0"/>
<circle cx="320.79" cy="703.04" r="2.2" fill="#5ab9d0"/>
<circle cx="335.16" cy="705.70" r="2.2" fill="#5ab9d0"/>
<circle cx="349.53" cy="708.36" r="2.2" fill="#5ab9d0"/>
<polyline points="220.20,618.97 234.57,630.76 248.94,640.46 263.31,649.21 277.68,661.58 292.05,668.99 306.42,671.47 320.79,689.91 335.16,686.49 349.53,699.61" fill="none" stroke="#f29c85" stroke-width="1.05"/>
<circle cx="220.20" cy="618.97" r="2.2" fill="#f29c85"/>
<circle cx="234.57" cy="630.76" r="2.2" fill="#f29c85"/>
<circle cx="248.94" cy="640.46" r="2.2" fill="#f29c85"/>
<circle cx="263.31" cy="649.21" r="2.2" fill="#f29c85"/>
<circle cx="277.68" cy="661.58" r="2.2" fill="#f29c85"/>
<circle cx="292.05" cy="668.99" r="2.2" fill="#f29c85"/>
<circle cx="306.42" cy="671.47" r="2.2" fill="#f29c85"/>
<circle cx="320.79" cy="689.91" r="2.2" fill="#f29c85"/>
<circle cx="335.16" cy="686.49" r="2.2" fill="#f29c85"/>
<circle cx="349.53" cy="699.61" r="2.2" fill="#f29c85"/>
<polyline points="220.20,607.18 234.57,607.94 248.94,605.85 263.31,603.37 277.68,601.09 292.05,604.13 306.42,604.52 320.79,607.94 335.16,612.31 349.53,614.98" fill="none" stroke="#6e5242" stroke-width="1.05"/>
<circle cx="220.20" cy="607.18" r="2.2" fill="#6e5242"/>
<circle cx="234.57" cy="607.94" r="2.2" fill="#6e5242"/>
<circle cx="248.94" cy="605.85" r="2.2" fill="#6e5242"/>
<circle cx="263.31" cy="603.37" r="2.2" fill="#6e5242"/>
<circle cx="277.68" cy="601.09" r="2.2" fill="#6e5242"/>
<circle cx="292.05" cy="604.13" r="2.2" fill="#6e5242"/>
<circle cx="306.42" cy="604.52" r="2.2" fill="#6e5242"/>
<circle cx="320.79" cy="607.94" r="2.2" fill="#6e5242"/>
<circle cx="335.16" cy="612.31" r="2.2" fill="#6e5242"/>
<circle cx="349.53" cy="614.98" r="2.2" fill="#6e5242"/>
<polyline points="220.20,663.67 234.57,707.41 248.94,715.40 263.31,723.20 277.68,725.86 292.05,727.38 306.42,731.38 320.79,731.38 335.16,730.62 349.53,729.86" fill="none" stroke="#9fdccd" stroke-width="1.05"/>
<circle cx="220.20" cy="663.67" r="2.2" fill="#9fdccd"/>
<circle cx="234.57" cy="707.41" r="2.2" fill="#9fdccd"/>
<circle cx="248.94" cy="715.40" r="2.2" fill="#9fdccd"/>
<circle cx="263.31" cy="723.20" r="2.2" fill="#9fdccd"/>
<circle cx="277.68" cy="725.86" r="2.2" fill="#9fdccd"/>
<circle cx="292.05" cy="727.38" r="2.2" fill="#9fdccd"/>
<circle cx="306.42" cy="731.38" r="2.2" fill="#9fdccd"/>
<circle cx="320.79" cy="731.38" r="2.2" fill="#9fdccd"/>
<circle cx="335.16" cy="730.62" r="2.2" fill="#9fdccd"/>
<circle cx="349.53" cy="729.86" r="2.2" fill="#9fdccd"/>
<polyline points="220.20,632.09 234.57,681.17 248.94,699.81 263.31,716.16 277.68,729.29 292.05,734.61 306.42,737.85 320.79,738.42 335.16,740.32 349.53,741.08" fill="none" stroke="#8792bf" stroke-width="1.05"/>
<circle cx="220.20" cy="632.09" r="2.2" fill="#8792bf"/>
<circle cx="234.57" cy="681.17" r="2.2" fill="#8792bf"/>
<circle cx="248.94" cy="699.81" r="2.2" fill="#8792bf"/>
<circle cx="263.31" cy="716.16" r="2.2" fill="#8792bf"/>
<circle cx="277.68" cy="729.29" r="2.2" fill="#8792bf"/>
<circle cx="292.05" cy="734.61" r="2.2" fill="#8792bf"/>
<circle cx="306.42" cy="737.85" r="2.2" fill="#8792bf"/>
<circle cx="320.79" cy="738.42" r="2.2" fill="#8792bf"/>
<circle cx="335.16" cy="740.32" r="2.2" fill="#8792bf"/>
<circle cx="349.53" cy="741.08" r="2.2" fill="#8792bf"/>
<polyline points="220.20,607.18 234.57,639.13 248.94,679.26 263.31,677.17 277.68,693.91 292.05,707.41 306.42,708.74 320.79,721.87 335.16,712.74 349.53,723.20" fill="none" stroke="#3c4a85" stroke-width="1.05"/>
<circle cx="220.20" cy="607.18" r="2.2" fill="#3c4a85"/>
<circle cx="234.57" cy="639.13" r="2.2" fill="#3c4a85"/>
<circle cx="248.94" cy="679.26" r="2.2" fill="#3c4a85"/>
<circle cx="263.31" cy="677.17" r="2.2" fill="#3c4a85"/>
<circle cx="277.68" cy="693.91" r="2.2" fill="#3c4a85"/>
<circle cx="292.05" cy="707.41" r="2.2" fill="#3c4a85"/>
<circle cx="306.42" cy="708.74" r="2.2" fill="#3c4a85"/>
<circle cx="320.79" cy="721.87" r="2.2" fill="#3c4a85"/>
<circle cx="335.16" cy="712.74" r="2.2" fill="#3c4a85"/>
<circle cx="349.53" cy="723.20" r="2.2" fill="#3c4a85"/>
<polyline points="220.20,602.61 234.57,606.61 248.94,605.85 263.31,608.89 277.68,611.55 292.05,613.26 306.42,620.30 320.79,619.54 335.16,618.40 349.53,623.73" fill="none" stroke="#d9503e" stroke-width="1.05"/>
<circle cx="220.20" cy="602.61" r="2.2" fill="#d9503e"/>
<circle cx="234.57" cy="606.61" r="2.2" fill="#d9503e"/>
<circle cx="248.94" cy="605.85" r="2.2" fill="#d9503e"/>
<circle cx="263.31" cy="608.89" r="2.2" fill="#d9503e"/>
<circle cx="277.68" cy="611.55" r="2.2" fill="#d9503e"/>
<circle cx="292.05" cy="613.26" r="2.2" fill="#d9503e"/>
<circle cx="306.42" cy="620.30" r="2.2" fill="#d9503e"/>
<circle cx="320.79" cy="619.54" r="2.2" fill="#d9503e"/>
<circle cx="335.16" cy="618.40" r="2.2" fill="#d9503e"/>
<circle cx="349.53" cy="623.73" r="2.2" fill="#d9503e"/>
<line x1="386.2" y1="594.2" x2="386.2" y2="748.6" stroke="#2a2a2a" stroke-width="1.2" />
<line x1="385.59999999999997" y1="748.0" x2="530" y2="748.0" stroke="#2a2a2a" stroke-width="1.2" />
<line x1="383.7" y1="596.5699999999999" x2="386.2" y2="596.5699999999999" stroke="#2a2a2a" stroke-width="1.0" />
<text x="382.5" y="600.17" font-size="9.6" text-anchor="end" fill="#222" font-weight="normal" font-family='"Liberation Sans", sans-serif' >0.8</text>
<line x1="383.7" y1="643.5899999999999" x2="386.2" y2="643.5899999999999" stroke="#2a2a2a" stroke-width="1.0" />
<text x="382.5" y="647.1899999999999" font-size="9.6" text-anchor="end" fill="#222" font-weight="normal" font-family='"Liberation Sans", sans-serif' >0.6</text>
<line x1="383.7" y1="690.6099999999999" x2="386.2" y2="690.6099999999999" stroke="#2a2a2a" stroke-width="1.0" />
<text x="382.5" y="694.2099999999999" font-size="9.6" text-anchor="end" fill="#222" font-weight="normal" font-family='"Liberation Sans", sans-serif' >0.4</text>
<line x1="383.7" y1="737.6299999999999" x2="386.2" y2="737.6299999999999" stroke="#2a2a2a" stroke-width="1.0" />
<text x="382.5" y="741.2299999999999" font-size="9.6" text-anchor="end" fill="#222" font-weight="normal" font-family='"Liberation Sans", sans-serif' >0.2</text>
<line x1="395.9" y1="748.0" x2="395.9" y2="750.5" stroke="#2a2a2a" stroke-width="1.0" />
<text x="395.9" y="759.5" font-size="9.8" text-anchor="middle" fill="#222" font-weight="normal" font-family='"Liberation Sans", sans-serif' >10</text>
<line x1="411.84" y1="748.0" x2="411.84" y2="750.5" stroke="#2a2a2a" stroke-width="1.0" />
<text x="411.84" y="759.5" font-size="9.8" text-anchor="middle" fill="#222" font-weight="normal" font-family='"Liberation Sans", sans-serif' >20</text>
<line x1="427.78" y1="748.0" x2="427.78" y2="750.5" stroke="#2a2a2a" stroke-width="1.0" />
<text x="427.78" y="759.5" font-size="9.8" text-anchor="middle" fill="#222" font-weight="normal" font-family='"Liberation Sans", sans-serif' >30</text>
<line x1="443.71999999999997" y1="748.0" x2="443.71999999999997" y2="750.5" stroke="#2a2a2a" stroke-width="1.0" />
<text x="443.71999999999997" y="759.5" font-size="9.8" text-anchor="middle" fill="#222" font-weight="normal" font-family='"Liberation Sans", sans-serif' >40</text>
<line x1="459.65999999999997" y1="748.0" x2="459.65999999999997" y2="750.5" stroke="#2a2a2a" stroke-width="1.0" />
<text x="459.65999999999997" y="759.5" font-size="9.8" text-anchor="middle" fill="#222" font-weight="normal" font-family='"Liberation Sans", sans-serif' >50</text>
<line x1="475.59999999999997" y1="748.0" x2="475.59999999999997" y2="750.5" stroke="#2a2a2a" stroke-width="1.0" />
<text x="475.59999999999997" y="759.5" font-size="9.8" text-anchor="middle" fill="#222" font-weight="normal" font-family='"Liberation Sans", sans-serif' >60</text>
<line x1="491.53999999999996" y1="748.0" x2="491.53999999999996" y2="750.5" stroke="#2a2a2a" stroke-width="1.0" />
<text x="491.53999999999996" y="759.5" font-size="9.8" text-anchor="middle" fill="#222" font-weight="normal" font-family='"Liberation Sans", sans-serif' >70</text>
<line x1="507.47999999999996" y1="748.0" x2="507.47999999999996" y2="750.5" stroke="#2a2a2a" stroke-width="1.0" />
<text x="507.47999999999996" y="759.5" font-size="9.8" text-anchor="middle" fill="#222" font-weight="normal" font-family='"Liberation Sans", sans-serif' >80</text>
<line x1="523.42" y1="748.0" x2="523.42" y2="750.5" stroke="#2a2a2a" stroke-width="1.0" />
<text x="523.42" y="759.5" font-size="9.8" text-anchor="middle" fill="#222" font-weight="normal" font-family='"Liberation Sans", sans-serif' >90</text>
<text x="460" y="773.8" font-size="9.7" text-anchor="middle" fill="#222" font-weight="normal" font-family='"Liberation Sans", sans-serif' >Spot sparsity rate (%)</text>
<polyline points="395.90,716.00 411.84,692.49 427.78,737.16 443.72,688.96 459.66,741.16 475.60,729.64 491.54,698.60 507.48,699.54 523.42,656.29" fill="none" stroke="#2e9c80" stroke-width="1.05"/>
<circle cx="395.90" cy="716.00" r="2.2" fill="#2e9c80"/>
<circle cx="411.84" cy="692.49" r="2.2" fill="#2e9c80"/>
<circle cx="427.78" cy="737.16" r="2.2" fill="#2e9c80"/>
<circle cx="443.72" cy="688.96" r="2.2" fill="#2e9c80"/>
<circle cx="459.66" cy="741.16" r="2.2" fill="#2e9c80"/>
<circle cx="475.60" cy="729.64" r="2.2" fill="#2e9c80"/>
<circle cx="491.54" cy="698.60" r="2.2" fill="#2e9c80"/>
<circle cx="507.48" cy="699.54" r="2.2" fill="#2e9c80"/>
<circle cx="523.42" cy="656.29" r="2.2" fill="#2e9c80"/>
<polyline points="395.90,655.11 411.84,652.99 427.78,652.29 443.72,654.40 459.66,654.40 475.60,652.52 491.54,660.52 507.48,675.33 523.42,657.46" fill="none" stroke="#5ab9d0" stroke-width="1.05"/>
<circle cx="395.90" cy="655.11" r="2.2" fill="#5ab9d0"/>
<circle cx="411.84" cy="652.99" r="2.2" fill="#5ab9d0"/>
<circle cx="427.78" cy="652.29" r="2.2" fill="#5ab9d0"/>
<circle cx="443.72" cy="654.40" r="2.2" fill="#5ab9d0"/>
<circle cx="459.66" cy="654.40" r="2.2" fill="#5ab9d0"/>
<circle cx="475.60" cy="652.52" r="2.2" fill="#5ab9d0"/>
<circle cx="491.54" cy="660.52" r="2.2" fill="#5ab9d0"/>
<circle cx="507.48" cy="675.33" r="2.2" fill="#5ab9d0"/>
<circle cx="523.42" cy="657.46" r="2.2" fill="#5ab9d0"/>
<polyline points="395.90,647.12 411.84,639.12 427.78,634.66 443.72,651.82 459.66,641.24 475.60,631.13 491.54,636.77 507.48,637.24 523.42,639.83" fill="none" stroke="#f29c85" stroke-width="1.05"/>
<circle cx="395.90" cy="647.12" r="2.2" fill="#f29c85"/>
<circle cx="411.84" cy="639.12" r="2.2" fill="#f29c85"/>
<circle cx="427.78" cy="634.66" r="2.2" fill="#f29c85"/>
<circle cx="443.72" cy="651.82" r="2.2" fill="#f29c85"/>
<circle cx="459.66" cy="641.24" r="2.2" fill="#f29c85"/>
<circle cx="475.60" cy="631.13" r="2.2" fill="#f29c85"/>
<circle cx="491.54" cy="636.77" r="2.2" fill="#f29c85"/>
<circle cx="507.48" cy="637.24" r="2.2" fill="#f29c85"/>
<circle cx="523.42" cy="639.83" r="2.2" fill="#f29c85"/>
<polyline points="395.90,624.08 411.84,626.66 427.78,627.60 443.72,633.95 459.66,638.65 475.60,641.24 491.54,642.65 507.48,649.00 523.42,651.82" fill="none" stroke="#6e5242" stroke-width="1.05"/>
<circle cx="395.90" cy="624.08" r="2.2" fill="#6e5242"/>
<circle cx="411.84" cy="626.66" r="2.2" fill="#6e5242"/>
<circle cx="427.78" cy="627.60" r="2.2" fill="#6e5242"/>
<circle cx="443.72" cy="633.95" r="2.2" fill="#6e5242"/>
<circle cx="459.66" cy="638.65" r="2.2" fill="#6e5242"/>
<circle cx="475.60" cy="641.24" r="2.2" fill="#6e5242"/>
<circle cx="491.54" cy="642.65" r="2.2" fill="#6e5242"/>
<circle cx="507.48" cy="649.00" r="2.2" fill="#6e5242"/>
<circle cx="523.42" cy="651.82" r="2.2" fill="#6e5242"/>
<polyline points="395.90,609.27 411.84,610.91 427.78,610.44 443.72,612.32 459.66,616.79 475.60,620.79 491.54,625.96 507.48,637.24 523.42,631.60" fill="none" stroke="#9fdccd" stroke-width="1.05"/>
<circle cx="395.90" cy="609.27" r="2.2" fill="#9fdccd"/>
<circle cx="411.84" cy="610.91" r="2.2" fill="#9fdccd"/>
<circle cx="427.78" cy="610.44" r="2.2" fill="#9fdccd"/>
<circle cx="443.72" cy="612.32" r="2.2" fill="#9fdccd"/>
<circle cx="459.66" cy="616.79" r="2.2" fill="#9fdccd"/>
<circle cx="475.60" cy="620.79" r="2.2" fill="#9fdccd"/>
<circle cx="491.54" cy="625.96" r="2.2" fill="#9fdccd"/>
<circle cx="507.48" cy="637.24" r="2.2" fill="#9fdccd"/>
<circle cx="523.42" cy="631.60" r="2.2" fill="#9fdccd"/>
<polyline points="395.90,603.15 411.84,603.62 427.78,607.15 443.72,605.27 459.66,607.15 475.60,608.32 491.54,609.27 507.48,616.79 523.42,632.07" fill="none" stroke="#8792bf" stroke-width="1.05"/>
<circle cx="395.90" cy="603.15" r="2.2" fill="#8792bf"/>
<circle cx="411.84" cy="603.62" r="2.2" fill="#8792bf"/>
<circle cx="427.78" cy="607.15" r="2.2" fill="#8792bf"/>
<circle cx="443.72" cy="605.27" r="2.2" fill="#8792bf"/>
<circle cx="459.66" cy="607.15" r="2.2" fill="#8792bf"/>
<circle cx="475.60" cy="608.32" r="2.2" fill="#8792bf"/>
<circle cx="491.54" cy="609.27" r="2.2" fill="#8792bf"/>
<circle cx="507.48" cy="616.79" r="2.2" fill="#8792bf"/>
<circle cx="523.42" cy="632.07" r="2.2" fill="#8792bf"/>
<polyline points="395.90,609.74 411.84,621.49 427.78,606.44 443.72,619.37 459.66,601.04 475.60,624.78 491.54,632.07 507.48,624.78 523.42,621.96" fill="none" stroke="#3c4a85" stroke-width="1.05"/>
<circle cx="395.90" cy="609.74" r="2.2" fill="#3c4a85"/>
<circle cx="411.84" cy="621.49" r="2.2" fill="#3c4a85"/>
<circle cx="427.78" cy="606.44" r="2.2" fill="#3c4a85"/>
<circle cx="443.72" cy="619.37" r="2.2" fill="#3c4a85"/>
<circle cx="459.66" cy="601.04" r="2.2" fill="#3c4a85"/>
<circle cx="475.60" cy="624.78" r="2.2" fill="#3c4a85"/>
<circle cx="491.54" cy="632.07" r="2.2" fill="#3c4a85"/>
<circle cx="507.48" cy="624.78" r="2.2" fill="#3c4a85"/>
<circle cx="523.42" cy="621.96" r="2.2" fill="#3c4a85"/>
<polyline points="395.90,603.15 411.84,618.90 427.78,616.79 443.72,611.85 459.66,603.15 475.60,605.27 491.54,618.43 507.48,618.43 523.42,609.74" fill="none" stroke="#d9503e" stroke-width="1.05"/>
<circle cx="395.90" cy="603.15" r="2.2" fill="#d9503e"/>
<circle cx="411.84" cy="618.90" r="2.2" fill="#d9503e"/>
<circle cx="427.78" cy="616.79" r="2.2" fill="#d9503e"/>
<circle cx="443.72" cy="611.85" r="2.2" fill="#d9503e"/>
<circle cx="459.66" cy="603.15" r="2.2" fill="#d9503e"/>
<circle cx="475.60" cy="605.27" r="2.2" fill="#d9503e"/>
<circle cx="491.54" cy="618.43" r="2.2" fill="#d9503e"/>
<circle cx="507.48" cy="618.43" r="2.2" fill="#d9503e"/>
<circle cx="523.42" cy="609.74" r="2.2" fill="#d9503e"/>
<line x1="561.5" y1="594.2" x2="561.5" y2="748.6" stroke="#2a2a2a" stroke-width="1.2" />
<line x1="560.9" y1="748.0" x2="704" y2="748.0" stroke="#2a2a2a" stroke-width="1.2" />
<line x1="559.0" y1="596.7399999999998" x2="561.5" y2="596.7399999999998" stroke="#2a2a2a" stroke-width="1.0" />
<text x="557.8" y="600.3399999999998" font-size="9.6" text-anchor="end" fill="#222" font-weight="normal" font-family='"Liberation Sans", sans-serif' >0.8</text>
<line x1="559.0" y1="640.6799999999998" x2="561.5" y2="640.6799999999998" stroke="#2a2a2a" stroke-width="1.0" />
<text x="557.8" y="644.2799999999999" font-size="9.6" text-anchor="end" fill="#222" font-weight="normal" font-family='"Liberation Sans", sans-serif' >0.6</text>
<line x1="559.0" y1="684.6199999999999" x2="561.5" y2="684.6199999999999" stroke="#2a2a2a" stroke-width="1.0" />
<text x="557.8" y="688.2199999999999" font-size="9.6" text-anchor="end" fill="#222" font-weight="normal" font-family='"Liberation Sans", sans-serif' >0.4</text>
<line x1="559.0" y1="728.5599999999998" x2="561.5" y2="728.5599999999998" stroke="#2a2a2a" stroke-width="1.0" />
<text x="557.8" y="732.1599999999999" font-size="9.6" text-anchor="end" fill="#222" font-weight="normal" font-family='"Liberation Sans", sans-serif' >0.2</text>
<line x1="570.6" y1="748.0" x2="570.6" y2="750.5" stroke="#2a2a2a" stroke-width="1.0" />
<text x="570.6" y="759.5" font-size="9.8" text-anchor="middle" fill="#222" font-weight="normal" font-family='"Liberation Sans", sans-serif' >10</text>
<line x1="586.5" y1="748.0" x2="586.5" y2="750.5" stroke="#2a2a2a" stroke-width="1.0" />
<text x="586.5" y="759.5" font-size="9.8" text-anchor="middle" fill="#222" font-weight="normal" font-family='"Liberation Sans", sans-serif' >20</text>
<line x1="602.4" y1="748.0" x2="602.4" y2="750.5" stroke="#2a2a2a" stroke-width="1.0" />
<text x="602.4" y="759.5" font-size="9.8" text-anchor="middle" fill="#222" font-weight="normal" font-family='"Liberation Sans", sans-serif' >30</text>
<line x1="618.3000000000001" y1="748.0" x2="618.3000000000001" y2="750.5" stroke="#2a2a2a" stroke-width="1.0" />
<text x="618.3000000000001" y="759.5" font-size="9.8" text-anchor="middle" fill="#222" font-weight="normal" font-family='"Liberation Sans", sans-serif' >40</text>
<line x1="634.2" y1="748.0" x2="634.2" y2="750.5" stroke="#2a2a2a" stroke-width="1.0" />
<text x="634.2" y="759.5" font-size="9.8" text-anchor="middle" fill="#222" font-weight="normal" font-family='"Liberation Sans", sans-serif' >50</text>
<line x1="650.1" y1="748.0" x2="650.1" y2="750.5" stroke="#2a2a2a" stroke-width="1.0" />
<text x="650.1" y="759.5" font-size="9.8" text-anchor="middle" fill="#222" font-weight="normal" font-family='"Liberation Sans", sans-serif' >60</text>
<line x1="666.0" y1="748.0" x2="666.0" y2="750.5" stroke="#2a2a2a" stroke-width="1.0" />
<text x="666.0" y="759.5" font-size="9.8" text-anchor="middle" fill="#222" font-weight="normal" font-family='"Liberation Sans", sans-serif' >70</text>
<line x1="681.9" y1="748.0" x2="681.9" y2="750.5" stroke="#2a2a2a" stroke-width="1.0" />
<text x="681.9" y="759.5" font-size="9.8" text-anchor="middle" fill="#222" font-weight="normal" font-family='"Liberation Sans", sans-serif' >80</text>
<line x1="697.8000000000001" y1="748.0" x2="697.8000000000001" y2="750.5" stroke="#2a2a2a" stroke-width="1.0" />
<text x="697.8000000000001" y="759.5" font-size="9.8" text-anchor="middle" fill="#222" font-weight="normal" font-family='"Liberation Sans", sans-serif' >90</text>
<text x="635.5" y="773.8" font-size="9.7" text-anchor="middle" fill="#222" font-weight="normal" font-family='"Liberation Sans", sans-serif' >Expression dropout rate (%)</text>
<polyline points="570.60,721.09 586.50,723.73 602.40,684.62 618.30,740.86 634.20,694.95 650.10,724.61 666.00,693.19 681.90,715.16 697.80,729.00" fill="none" stroke="#2e9c80" stroke-width="1.05"/>
<circle cx="570.60" cy="721.09" r="2.2" fill="#2e9c80"/>
<circle cx="586.50" cy="723.73" r="2.2" fill="#2e9c80"/>
<circle cx="602.40" cy="684.62" r="2.2" fill="#2e9c80"/>
<circle cx="618.30" cy="740.86" r="2.2" fill="#2e9c80"/>
<circle cx="634.20" cy="694.95" r="2.2" fill="#2e9c80"/>
<circle cx="650.10" cy="724.61" r="2.2" fill="#2e9c80"/>
<circle cx="666.00" cy="693.19" r="2.2" fill="#2e9c80"/>
<circle cx="681.90" cy="715.16" r="2.2" fill="#2e9c80"/>
<circle cx="697.80" cy="729.00" r="2.2" fill="#2e9c80"/>
<polyline points="570.60,649.69 586.50,644.63 602.40,649.91 618.30,649.69 634.20,648.37 650.10,649.25 666.00,648.37 681.90,648.37 697.80,659.57" fill="none" stroke="#5ab9d0" stroke-width="1.05"/>
<circle cx="570.60" cy="649.69" r="2.2" fill="#5ab9d0"/>
<circle cx="586.50" cy="644.63" r="2.2" fill="#5ab9d0"/>
<circle cx="602.40" cy="649.91" r="2.2" fill="#5ab9d0"/>
<circle cx="618.30" cy="649.69" r="2.2" fill="#5ab9d0"/>
<circle cx="634.20" cy="648.37" r="2.2" fill="#5ab9d0"/>
<circle cx="650.10" cy="649.25" r="2.2" fill="#5ab9d0"/>
<circle cx="666.00" cy="648.37" r="2.2" fill="#5ab9d0"/>
<circle cx="681.90" cy="648.37" r="2.2" fill="#5ab9d0"/>
<circle cx="697.80" cy="659.57" r="2.2" fill="#5ab9d0"/>
<polyline points="570.60,637.38 586.50,638.70 602.40,642.00 618.30,643.10 634.20,647.05 650.10,647.93 666.00,645.95 681.90,662.87 697.80,675.39" fill="none" stroke="#f29c85" stroke-width="1.05"/>
<circle cx="570.60" cy="637.38" r="2.2" fill="#f29c85"/>
<circle cx="586.50" cy="638.70" r="2.2" fill="#f29c85"/>
<circle cx="602.40" cy="642.00" r="2.2" fill="#f29c85"/>
<circle cx="618.30" cy="643.10" r="2.2" fill="#f29c85"/>
<circle cx="634.20" cy="647.05" r="2.2" fill="#f29c85"/>
<circle cx="650.10" cy="647.93" r="2.2" fill="#f29c85"/>
<circle cx="666.00" cy="645.95" r="2.2" fill="#f29c85"/>
<circle cx="681.90" cy="662.87" r="2.2" fill="#f29c85"/>
<circle cx="697.80" cy="675.39" r="2.2" fill="#f29c85"/>
<polyline points="570.60,618.93 586.50,621.57 602.40,621.13 618.30,617.61 634.20,609.26 650.10,609.92 666.00,607.72 681.90,614.54 697.80,622.88" fill="none" stroke="#6e5242" stroke-width="1.05"/>
<circle cx="570.60" cy="618.93" r="2.2" fill="#6e5242"/>
<circle cx="586.50" cy="621.57" r="2.2" fill="#6e5242"/>
<circle cx="602.40" cy="621.13" r="2.2" fill="#6e5242"/>
<circle cx="618.30" cy="617.61" r="2.2" fill="#6e5242"/>
<circle cx="634.20" cy="609.26" r="2.2" fill="#6e5242"/>
<circle cx="650.10" cy="609.92" r="2.2" fill="#6e5242"/>
<circle cx="666.00" cy="607.72" r="2.2" fill="#6e5242"/>
<circle cx="681.90" cy="614.54" r="2.2" fill="#6e5242"/>
<circle cx="697.80" cy="622.88" r="2.2" fill="#6e5242"/>
<polyline points="570.60,607.94 586.50,609.04 602.40,616.95 618.30,611.24 634.20,621.57 650.10,613.88 666.00,601.13 681.90,614.54 697.80,616.29" fill="none" stroke="#9fdccd" stroke-width="1.05"/>
<circle cx="570.60" cy="607.94" r="2.2" fill="#9fdccd"/>
<circle cx="586.50" cy="609.04" r="2.2" fill="#9fdccd"/>
<circle cx="602.40" cy="616.95" r="2.2" fill="#9fdccd"/>
<circle cx="618.30" cy="611.24" r="2.2" fill="#9fdccd"/>
<circle cx="634.20" cy="621.57" r="2.2" fill="#9fdccd"/>
<circle cx="650.10" cy="613.88" r="2.2" fill="#9fdccd"/>
<circle cx="666.00" cy="601.13" r="2.2" fill="#9fdccd"/>
<circle cx="681.90" cy="614.54" r="2.2" fill="#9fdccd"/>
<circle cx="697.80" cy="616.29" r="2.2" fill="#9fdccd"/>
<polyline points="570.60,609.92 586.50,610.36 602.40,615.85 618.30,614.54 634.20,612.56 650.10,611.68 666.00,615.85 681.90,626.84 697.80,623.76" fill="none" stroke="#8792bf" stroke-width="1.05"/>
<circle cx="570.60" cy="609.92" r="2.2" fill="#8792bf"/>
<circle cx="586.50" cy="610.36" r="2.2" fill="#8792bf"/>
<circle cx="602.40" cy="615.85" r="2.2" fill="#8792bf"/>
<circle cx="618.30" cy="614.54" r="2.2" fill="#8792bf"/>
<circle cx="634.20" cy="612.56" r="2.2" fill="#8792bf"/>
<circle cx="650.10" cy="611.68" r="2.2" fill="#8792bf"/>
<circle cx="666.00" cy="615.85" r="2.2" fill="#8792bf"/>
<circle cx="681.90" cy="626.84" r="2.2" fill="#8792bf"/>
<circle cx="697.80" cy="623.76" r="2.2" fill="#8792bf"/>
<polyline points="570.60,618.49 586.50,617.17 602.40,626.84 618.30,614.98 634.20,618.93 650.10,628.82 666.00,641.34 681.90,638.70 697.80,646.61" fill="none" stroke="#3c4a85" stroke-width="1.05"/>
<circle cx="570.60" cy="618.49" r="2.2" fill="#3c4a85"/>
<circle cx="586.50" cy="617.17" r="2.2" fill="#3c4a85"/>
<circle cx="602.40" cy="626.84" r="2.2" fill="#3c4a85"/>
<circle cx="618.30" cy="614.98" r="2.2" fill="#3c4a85"/>
<circle cx="634.20" cy="618.93" r="2.2" fill="#3c4a85"/>
<circle cx="650.10" cy="628.82" r="2.2" fill="#3c4a85"/>
<circle cx="666.00" cy="641.34" r="2.2" fill="#3c4a85"/>
<circle cx="681.90" cy="638.70" r="2.2" fill="#3c4a85"/>
<circle cx="697.80" cy="646.61" r="2.2" fill="#3c4a85"/>
<polyline points="570.60,612.56 586.50,605.31 602.40,615.85 618.30,617.61 634.20,619.81 650.10,616.29 666.00,625.08 681.90,630.35 697.80,639.14" fill="none" stroke="#d9503e" stroke-width="1.05"/>
<circle cx="570.60" cy="612.56" r="2.2" fill="#d9503e"/>
<circle cx="586.50" cy="605.31" r="2.2" fill="#d9503e"/>
<circle cx="602.40" cy="615.85" r="2.2" fill="#d9503e"/>
<circle cx="618.30" cy="617.61" r="2.2" fill="#d9503e"/>
<circle cx="634.20" cy="619.81" r="2.2" fill="#d9503e"/>
<circle cx="650.10" cy="616.29" r="2.2" fill="#d9503e"/>
<circle cx="666.00" cy="625.08" r="2.2" fill="#d9503e"/>
<circle cx="681.90" cy="630.35" r="2.2" fill="#d9503e"/>
<circle cx="697.80" cy="639.14" r="2.2" fill="#d9503e"/>
<text x="130.9" y="791.2" font-size="9.7" text-anchor="start" fill="#222" font-weight="normal" font-family='"Liberation Sans", sans-serif' >Method</text>
<line x1="170.4" y1="787.8" x2="181.4" y2="787.8" stroke="#d9503e" stroke-width="1.2" />
<circle cx="175.9" cy="787.8" r="2.1" fill="#d9503e"/>
<text x="183.9" y="791.2" font-size="9.7" text-anchor="start" fill="#222" font-weight="normal" font-family='"Liberation Sans", sans-serif' >GraphPCA</text>
<line x1="235.4" y1="787.8" x2="246.4" y2="787.8" stroke="#5ab9d0" stroke-width="1.2" />
<circle cx="240.9" cy="787.8" r="2.1" fill="#5ab9d0"/>
<text x="248.3" y="791.2" font-size="9.7" text-anchor="start" fill="#222" font-weight="normal" font-family='"Liberation Sans", sans-serif' >PCA</text>
<line x1="272.9" y1="787.8" x2="283.9" y2="787.8" stroke="#2e9c80" stroke-width="1.2" />
<circle cx="278.4" cy="787.8" r="2.1" fill="#2e9c80"/>
<text x="286.4" y="791.2" font-size="9.7" text-anchor="start" fill="#222" font-weight="normal" font-family='"Liberation Sans", sans-serif' >NMF</text>
<line x1="310.5" y1="787.8" x2="321.5" y2="787.8" stroke="#3c4a85" stroke-width="1.2" />
<circle cx="316.0" cy="787.8" r="2.1" fill="#3c4a85"/>
<text x="323.9" y="791.2" font-size="9.7" text-anchor="start" fill="#222" font-weight="normal" font-family='"Liberation Sans", sans-serif' >SpaGCN</text>
<line x1="366.9" y1="787.8" x2="377.9" y2="787.8" stroke="#f29c85" stroke-width="1.2" />
<circle cx="372.4" cy="787.8" r="2.1" fill="#f29c85"/>
<text x="380.3" y="791.2" font-size="9.7" text-anchor="start" fill="#222" font-weight="normal" font-family='"Liberation Sans", sans-serif' >STAGATE</text>
<line x1="430" y1="787.8" x2="441" y2="787.8" stroke="#8792bf" stroke-width="1.2" />
<circle cx="435.5" cy="787.8" r="2.1" fill="#8792bf"/>
<text x="442" y="791.2" font-size="9.7" text-anchor="start" fill="#222" font-weight="normal" font-family='"Liberation Sans", sans-serif' >BayesSpace</text>
<line x1="501" y1="787.8" x2="512" y2="787.8" stroke="#9fdccd" stroke-width="1.2" />
<circle cx="506.5" cy="787.8" r="2.1" fill="#9fdccd"/>
<text x="513.4" y="791.2" font-size="9.7" text-anchor="start" fill="#222" font-weight="normal" font-family='"Liberation Sans", sans-serif' >DR-SC</text>
<line x1="548.5" y1="787.8" x2="559.5" y2="787.8" stroke="#6e5242" stroke-width="1.2" />
<circle cx="554.0" cy="787.8" r="2.1" fill="#6e5242"/>
<text x="561" y="791.2" font-size="9.7" text-anchor="start" fill="#222" font-weight="normal" font-family='"Liberation Sans", sans-serif' >SpatialPCA</text>
</svg></body></html>
